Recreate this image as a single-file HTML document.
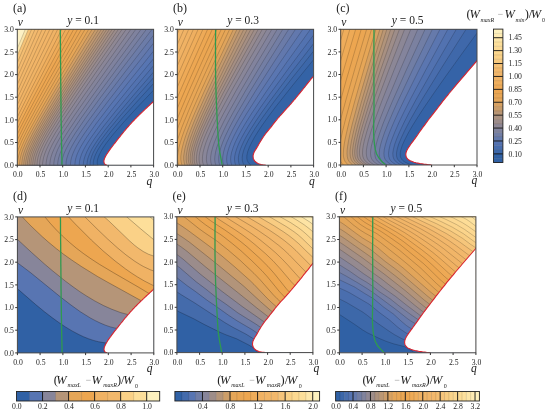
<!DOCTYPE html>
<html><head><meta charset="utf-8"><title>Figure</title>
<style>html,body{margin:0;padding:0;background:#fff}svg{display:block}</style>
</head><body>
<svg width="550" height="413" viewBox="0 0 550 413">
<rect width="550" height="413" fill="#fff"/>
<clipPath id="cpa"><rect x="17.3" y="29.3" width="136.3" height="135.9"/></clipPath>
<g clip-path="url(#cpa)">
<rect x="16.3" y="28.3" width="138.3" height="137.9" fill="#3363a6"/>
<g stroke="#000" stroke-opacity="0.25" stroke-width="0.7" stroke-linejoin="round">
<path d="M13.3,25.3 157.3,25.3 157.3,86.2 137.3,107.3 124.3,121.5 113.3,134.2 106.3,143.2 103.3,147.5 101.0,151.3 99.3,154.7 97.9,158.3 97.4,160.3 97.2,162.3 97.2,163.3 97.5,164.3 98.2,165.3 98.2,168.3 13.3,168.3Z" fill="#3966a8" fill-rule="evenodd"/>
<path d="M13.3,25.3 157.3,25.3 157.3,79.4 137.3,101.3 122.3,118.1 111.3,131.2 103.3,141.5 100.3,145.9 97.6,150.3 95.6,154.3 94.4,157.3 93.6,160.3 93.3,162.3 93.3,164.3 93.6,165.3 93.6,168.3 13.3,168.3Z" fill="#4069aa" fill-rule="evenodd"/>
<path d="M13.3,25.3 157.3,25.3 157.3,73.4 135.3,98.3 121.3,114.5 109.3,129.0 101.3,139.5 98.3,143.8 95.5,148.3 93.3,152.3 92.0,155.3 91.0,158.3 90.3,161.3 90.1,163.3 90.2,168.3 13.3,168.3Z" fill="#466cac" fill-rule="evenodd"/>
<path d="M13.3,25.3 157.3,25.3 157.3,67.7 133.3,95.5 117.5,114.3 105.5,129.3 98.1,139.3 94.8,144.3 92.3,148.3 90.7,151.3 89.0,155.3 87.9,158.3 87.3,161.3 87.0,163.3 87.1,168.3 13.3,168.3Z" fill="#4c6fae" fill-rule="evenodd"/>
<path d="M157.3,25.3 157.3,61.2 133.3,89.7 115.5,111.3 103.6,126.3 94.8,138.3 91.5,143.3 89.1,147.3 87.0,151.3 85.3,155.3 84.3,158.3 83.6,161.3 83.3,164.3 83.3,168.3 13.3,168.3 13.3,25.3Z" fill="#5272b0" fill-rule="evenodd"/>
<path d="M157.3,25.3 157.3,54.1 131.3,85.6 113.3,107.9 100.3,124.6 91.2,137.3 87.9,142.3 85.5,146.3 83.3,150.3 81.5,154.3 80.2,158.3 79.5,161.3 79.3,164.3 79.2,168.3 13.3,168.3 13.3,25.3Z" fill="#5775b2" fill-rule="evenodd"/>
<path d="M157.3,25.3 157.3,46.4 130.3,79.9 110.3,105.1 96.4,123.3 87.3,136.2 84.0,141.3 81.0,146.3 78.9,150.3 77.1,154.3 75.8,158.3 75.2,161.3 74.9,164.3 74.9,168.3 13.3,168.3 13.3,25.3Z" fill="#5e77af" fill-rule="evenodd"/>
<path d="M157.3,25.3 157.3,38.4 128.3,75.1 108.3,100.9 93.7,120.3 83.8,134.3 79.9,140.3 76.9,145.3 74.8,149.3 73.0,153.3 71.6,157.3 70.9,160.3 70.5,163.3 70.4,168.3 13.3,168.3 13.3,25.3Z" fill="#6579ab" fill-rule="evenodd"/>
<path d="M157.3,25.3 157.3,30.3 124.3,72.9 102.3,101.8 87.3,122.3 81.7,130.3 77.3,137.0 74.3,141.9 71.8,146.3 69.8,150.3 68.1,154.3 66.8,158.3 66.2,161.3 66.0,164.3 65.9,168.3 13.3,168.3 13.3,25.3Z" fill="#6c7ca8" fill-rule="evenodd"/>
<path d="M155.1,25.3 123.3,67.0 101.3,96.4 86.3,117.0 75.3,133.1 71.4,139.3 68.5,144.3 65.9,149.3 64.1,153.3 62.8,157.3 62.1,160.3 61.7,163.3 61.7,168.3 13.3,168.3 13.3,25.3Z" fill="#737ea4" fill-rule="evenodd"/>
<path d="M149.4,25.3 118.3,66.9 96.3,96.8 81.3,117.8 70.9,133.3 67.2,139.3 64.3,144.3 61.8,149.3 60.1,153.3 58.8,157.3 58.1,160.3 57.7,163.3 57.7,168.3 13.3,168.3 13.3,25.3Z" fill="#7980a1" fill-rule="evenodd"/>
<path d="M144.0,25.3 113.3,67.1 92.3,96.1 77.3,117.4 67.3,132.5 63.3,139.0 60.3,144.3 57.8,149.3 56.2,153.3 54.9,157.3 54.2,160.3 53.8,163.3 53.8,168.3 13.3,168.3 13.3,25.3Z" fill="#7f829e" fill-rule="evenodd"/>
<path d="M138.7,25.3 108.3,67.3 88.3,95.4 73.3,117.0 63.3,132.3 59.3,138.9 56.3,144.3 53.9,149.3 52.2,153.3 50.9,157.3 50.3,160.3 49.9,163.3 49.8,168.3 13.3,168.3 13.3,25.3Z" fill="#84849b" fill-rule="evenodd"/>
<path d="M133.7,25.3 104.3,66.5 83.3,96.4 69.3,116.9 59.3,132.3 55.3,139.1 52.4,144.3 50.0,149.3 48.4,153.3 47.1,157.3 46.5,160.3 46.1,163.3 46.1,168.3 13.3,168.3 13.3,25.3Z" fill="#8a8698" fill-rule="evenodd"/>
<path d="M129.0,25.3 99.3,67.5 79.3,96.4 65.3,117.1 55.3,132.9 51.6,139.3 48.9,144.3 46.5,149.3 44.9,153.3 43.6,157.3 43.0,160.3 42.6,163.3 42.6,168.3 13.3,168.3 13.3,25.3Z" fill="#8f8894" fill-rule="evenodd"/>
<path d="M124.9,25.3 96.3,66.4 76.3,95.6 62.3,116.6 52.3,132.5 48.3,139.4 45.3,145.1 43.3,149.4 41.8,153.3 40.5,157.3 39.9,160.3 39.6,163.3 39.5,168.3 13.3,168.3 13.3,25.3Z" fill="#958a90" fill-rule="evenodd"/>
<path d="M121.2,25.3 92.3,67.4 73.3,95.5 58.3,118.4 49.3,133.0 46.3,138.2 43.3,143.9 41.2,148.3 39.2,153.3 38.0,157.3 37.3,160.6 37.0,164.3 37.0,168.3 13.3,168.3 13.3,25.3Z" fill="#9b8c8b" fill-rule="evenodd"/>
<path d="M117.9,25.3 90.3,66.1 70.3,96.0 56.3,117.6 47.3,132.3 41.3,143.3 38.9,148.3 36.9,153.3 35.7,157.3 35.1,160.3 34.8,163.3 34.7,168.3 13.3,168.3 13.3,25.3Z" fill="#a18e87" fill-rule="evenodd"/>
<path d="M114.9,25.3 87.3,66.6 68.3,95.3 54.3,117.2 45.3,132.0 39.2,143.3 36.4,149.3 34.9,153.3 33.7,157.3 33.1,160.3 32.8,163.3 32.7,168.3 13.3,168.3 13.3,25.3Z" fill="#a79083" fill-rule="evenodd"/>
<path d="M112.1,25.3 84.3,67.3 65.3,96.5 52.3,117.0 43.2,132.3 39.3,139.3 36.8,144.3 34.5,149.3 33.0,153.3 31.9,157.3 31.2,160.3 30.9,163.3 30.9,168.3 13.3,168.3 13.3,25.3Z" fill="#ad927e" fill-rule="evenodd"/>
<path d="M109.4,25.3 82.3,66.8 63.3,96.3 50.3,117.0 41.3,132.3 38.0,138.3 35.0,144.3 32.7,149.3 31.2,153.3 30.1,157.3 29.5,160.3 29.2,163.3 29.1,168.3 13.3,168.3 13.3,25.3Z" fill="#b2947a" fill-rule="evenodd"/>
<path d="M106.8,25.3 79.6,67.3 61.1,96.3 47.6,118.3 38.8,133.3 35.6,139.3 33.2,144.3 31.0,149.3 29.5,153.3 28.3,157.3 27.8,160.3 27.4,163.3 27.4,168.3 13.3,168.3 13.3,25.3Z" fill="#b99676" fill-rule="evenodd"/>
<path d="M104.0,25.3 77.8,66.3 59.0,96.3 45.5,118.3 36.9,133.3 33.8,139.3 30.9,145.3 29.2,149.3 27.7,153.3 26.6,157.3 26.0,160.3 25.7,163.3 25.6,168.3 13.3,168.3 13.3,25.3Z" fill="#bf9871" fill-rule="evenodd"/>
<path d="M101.1,25.3 75.9,65.3 56.7,96.3 44.0,117.3 34.9,133.3 31.8,139.3 28.9,145.3 27.2,149.3 25.8,153.3 24.7,157.3 24.1,160.3 23.8,163.3 23.7,168.3 13.3,168.3 13.3,25.3Z" fill="#c69b6c" fill-rule="evenodd"/>
<path d="M98.0,25.3 71.9,67.3 53.5,97.3 41.7,117.3 32.7,133.3 27.3,144.3 25.1,149.3 23.7,153.3 22.6,157.3 22.1,160.3 21.8,163.3 21.7,168.3 13.3,168.3 13.3,25.3Z" fill="#d29f65" fill-rule="evenodd"/>
<path d="M94.6,25.3 70.8,64.3 52.1,95.3 39.8,116.3 30.9,132.3 27.8,138.3 25.0,144.3 22.9,149.3 21.5,153.3 20.5,157.3 19.9,160.3 19.6,163.3 19.5,168.3 13.3,168.3 13.3,25.3Z" fill="#dda35d" fill-rule="evenodd"/>
<path d="M91.1,25.3 52.8,89.3 41.8,108.3 32.8,124.3 28.0,133.3 24.5,140.3 21.9,146.3 19.9,151.3 18.5,156.3 17.7,160.3 17.4,163.3 17.3,168.3 13.3,168.3 13.3,25.3Z" fill="#e6a657" fill-rule="evenodd"/>
<path d="M87.4,25.3 63.9,65.3 47.6,93.3 35.7,114.3 27.6,129.3 22.1,140.3 18.3,149.3 16.7,154.3 15.6,159.3 15.1,163.3 15.1,168.3 13.3,168.3 13.3,25.3Z" fill="#e7a656" fill-rule="evenodd"/>
<path d="M83.7,25.3 48.0,87.3 36.8,107.3 28.1,123.3 22.0,135.3 17.9,144.3 15.0,152.3 13.9,156.3 13.3,159.0 13.3,25.3Z" fill="#eaa653" fill-rule="evenodd"/>
<path d="M79.8,25.3 48.8,80.3 30.7,113.3 24.3,125.5 19.5,135.3 15.9,143.3 13.3,150.0 13.3,25.3Z" fill="#eca651" fill-rule="evenodd"/>
<path d="M75.9,25.3 48.8,74.3 31.3,106.8 20.2,128.3 16.4,136.3 13.3,143.5 13.3,25.3Z" fill="#eda752" fill-rule="evenodd"/>
<path d="M71.8,25.3 47.3,70.8 31.3,101.1 20.5,122.3 13.3,137.5 13.3,25.3Z" fill="#eeab58" fill-rule="evenodd"/>
<path d="M67.8,25.3 46.3,66.2 31.3,95.1 20.6,116.3 13.3,131.6 13.3,25.3Z" fill="#efae5d" fill-rule="evenodd"/>
<path d="M63.8,25.3 31.3,88.8 20.6,110.3 13.3,125.6 13.3,25.3Z" fill="#f0b162" fill-rule="evenodd"/>
<path d="M59.7,25.3 30.3,84.3 20.3,104.8 13.3,119.5 13.3,25.3Z" fill="#f0b365" fill-rule="evenodd"/>
<path d="M55.7,25.3 29.3,79.5 13.3,113.3 13.3,25.3Z" fill="#f1b467" fill-rule="evenodd"/>
<path d="M51.7,25.3 28.3,74.6 13.3,106.8 13.3,25.3Z" fill="#f1b568" fill-rule="evenodd"/>
<path d="M47.8,25.3 27.3,69.5 13.3,100.2 13.3,25.3Z" fill="#f1b66a" fill-rule="evenodd"/>
<path d="M44.0,25.3 13.3,93.4 13.3,25.3Z" fill="#f2b76b" fill-rule="evenodd"/>
<path d="M40.3,25.3 13.3,86.4 13.3,25.3Z" fill="#f2b96e" fill-rule="evenodd"/>
<path d="M36.7,25.3 13.3,79.3 13.3,25.3Z" fill="#f4be72" fill-rule="evenodd"/>
<path d="M33.3,25.3 13.3,72.2 13.3,25.3Z" fill="#f5c277" fill-rule="evenodd"/>
<path d="M30.0,25.3 13.3,65.1 13.3,25.3Z" fill="#fbe5aa" fill-rule="evenodd"/>
<path d="M26.9,25.3 13.3,58.2 13.3,25.3Z" fill="#fdf1c4" fill-rule="evenodd"/>
</g>
<path d="M107.0,165.2 105.8,164.9 104.8,164.2 104.2,163.2 103.9,161.9 103.9,160.7 104.2,159.5 104.6,158.4 105.1,157.2 105.7,156.1 106.3,155.0 106.9,154.0 107.6,153.0 108.3,151.9 109.0,150.9 109.7,149.9 110.4,148.9 111.1,148.0 111.9,147.0 112.6,146.0 113.4,145.0 114.1,144.0 114.9,143.1 115.6,142.1 116.4,141.1 117.1,140.2 117.9,139.2 118.6,138.2 119.4,137.3 120.2,136.3 120.9,135.3 121.7,134.4 122.5,133.4 123.3,132.5 124.0,131.5 124.8,130.6 125.6,129.6 126.4,128.7 127.2,127.7 128.0,126.8 128.8,125.9 129.6,125.0 130.4,124.1 131.3,123.1 132.1,122.2 132.9,121.3 133.8,120.5 134.6,119.6 135.5,118.7 136.4,117.8 137.2,116.9 138.1,116.1 139.0,115.2 139.8,114.3 140.7,113.5 141.6,112.6 142.5,111.8 143.4,110.9 144.3,110.1 145.2,109.2 146.1,108.4 147.0,107.5 147.9,106.7 148.8,105.9 149.7,105.0 150.6,104.2 151.5,103.3 152.4,102.5 153.3,101.7 154.1,100.8 155.0,100.0 155.9,99.1 156.8,98.3 157.7,97.4 158.6,96.6 159.5,95.7 160.4,94.9 161.2,94.0 162.1,93.1 163.0,92.3 163.9,91.4 164.8,90.6 165.6,89.7 166.5,88.8 167.4,88.0 168.3,87.1 169.1,86.3 170.0,85.4 170.9,84.5 171.8,83.7 173.6,83.7 173.6,175.2 107.0,175.2Z" fill="#fff"/>
<path d="M107.0,165.2 105.8,164.9 104.8,164.2 104.2,163.2 103.9,161.9 103.9,160.7 104.2,159.5 104.6,158.4 105.1,157.2 105.7,156.1 106.3,155.0 106.9,154.0 107.6,153.0 108.3,151.9 109.0,150.9 109.7,149.9 110.4,148.9 111.1,148.0 111.9,147.0 112.6,146.0 113.4,145.0 114.1,144.0 114.9,143.1 115.6,142.1 116.4,141.1 117.1,140.2 117.9,139.2 118.6,138.2 119.4,137.3 120.2,136.3 120.9,135.3 121.7,134.4 122.5,133.4 123.3,132.5 124.0,131.5 124.8,130.6 125.6,129.6 126.4,128.7 127.2,127.7 128.0,126.8 128.8,125.9 129.6,125.0 130.4,124.1 131.3,123.1 132.1,122.2 132.9,121.3 133.8,120.5 134.6,119.6 135.5,118.7 136.4,117.8 137.2,116.9 138.1,116.1 139.0,115.2 139.8,114.3 140.7,113.5 141.6,112.6 142.5,111.8 143.4,110.9 144.3,110.1 145.2,109.2 146.1,108.4 147.0,107.5 147.9,106.7 148.8,105.9 149.7,105.0 150.6,104.2 151.5,103.3 152.4,102.5 153.3,101.7 154.1,100.8 155.0,100.0 155.9,99.1 156.8,98.3 157.7,97.4 158.6,96.6 159.5,95.7 160.4,94.9 161.2,94.0 162.1,93.1 163.0,92.3 163.9,91.4 164.8,90.6 165.6,89.7 166.5,88.8 167.4,88.0 168.3,87.1 169.1,86.3 170.0,85.4 170.9,84.5 171.8,83.7" fill="none" stroke="#d9232e" stroke-width="1.1"/>
<path d="M60.3,29.3 60.3,34.0 60.4,38.7 60.4,43.4 60.5,48.0 60.5,52.7 60.5,57.4 60.6,62.1 60.6,66.8 60.7,71.5 60.7,76.2 60.7,80.9 60.8,85.5 60.8,90.2 60.9,94.9 60.9,99.6 61.0,104.3 61.0,109.0 61.1,113.7 61.1,118.3 61.2,123.0 61.3,127.7 61.3,132.4 61.4,137.1 61.5,141.8 61.6,146.5 61.7,151.1 61.8,155.8 61.9,160.5 62.0,165.2" fill="none" stroke="#2f9a4f" stroke-width="1.3"/>
</g>
<clipPath id="cpb"><rect x="177.3" y="29.3" width="136.3" height="135.9"/></clipPath>
<g clip-path="url(#cpb)">
<rect x="176.3" y="28.3" width="138.3" height="137.9" fill="#3463a6"/>
<g stroke="#000" stroke-opacity="0.25" stroke-width="0.7" stroke-linejoin="round">
<path d="M173.3,25.3 317.3,25.3 317.3,55.1 293.3,84.5 275.3,107.3 268.3,116.7 262.3,125.1 258.3,131.1 254.3,137.6 251.3,143.1 249.3,147.4 247.8,151.3 246.9,155.3 246.8,158.3 247.2,160.3 248.3,162.6 249.3,163.8 251.0,165.3 251.0,168.3 173.3,168.3Z" fill="#3c67a9" fill-rule="evenodd"/>
<path d="M317.3,25.3 317.3,46.4 292.3,77.9 274.3,101.3 261.3,119.3 255.3,128.2 251.5,134.3 248.1,140.3 245.3,146.1 243.7,150.3 242.6,154.3 242.2,157.3 242.3,160.3 243.1,163.3 244.2,165.3 244.2,168.3 173.3,168.3 173.3,25.3Z" fill="#436bab" fill-rule="evenodd"/>
<path d="M317.3,25.3 317.3,38.8 290.6,73.3 269.7,101.3 261.8,112.3 255.7,121.3 250.6,129.3 245.9,137.3 243.8,141.3 241.5,146.3 240.0,150.3 238.9,154.3 238.4,157.3 238.4,160.3 238.9,163.3 239.7,165.3 239.7,168.3 173.3,168.3 173.3,25.3Z" fill="#4b6eae" fill-rule="evenodd"/>
<path d="M317.3,25.3 317.3,30.0 288.3,68.8 269.3,94.9 260.6,107.3 254.6,116.3 248.8,125.3 244.6,132.3 241.3,138.3 238.4,144.3 236.5,149.3 235.3,153.3 234.7,156.3 234.5,159.3 234.8,162.3 235.7,165.3 235.7,168.3 173.3,168.3 173.3,25.3Z" fill="#5272b0" fill-rule="evenodd"/>
<path d="M313.3,25.3 286.3,62.9 266.3,91.5 251.7,113.3 246.3,121.9 241.9,129.3 238.1,136.3 235.2,142.3 233.2,147.3 231.6,152.3 230.8,156.3 230.6,159.3 230.9,162.3 231.7,165.3 231.7,168.3 173.3,168.3 173.3,25.3Z" fill="#5a76b1" fill-rule="evenodd"/>
<path d="M305.6,25.3 279.3,63.6 260.3,92.1 246.8,113.3 241.4,122.3 237.4,129.3 233.8,136.3 231.0,142.3 229.1,147.3 227.6,152.3 226.8,156.3 226.6,159.3 226.9,162.3 227.7,165.3 227.7,168.3 173.3,168.3 173.3,25.3Z" fill="#6278ad" fill-rule="evenodd"/>
<path d="M298.1,25.3 273.3,63.1 255.3,91.3 242.3,112.6 237.3,121.3 232.9,129.3 229.5,136.3 226.8,142.3 224.9,147.3 223.5,152.3 222.8,156.3 222.6,159.3 222.9,162.3 223.8,165.3 223.8,168.3 173.3,168.3 173.3,25.3Z" fill="#6b7ba8" fill-rule="evenodd"/>
<path d="M291.2,25.3 267.3,63.2 249.3,92.5 237.3,113.0 232.3,122.1 228.3,129.8 225.2,136.3 222.7,142.3 220.9,147.3 219.5,152.3 218.8,156.3 218.7,159.3 218.9,162.3 219.8,165.3 219.8,168.3 173.3,168.3 173.3,25.3Z" fill="#737ea4" fill-rule="evenodd"/>
<path d="M285.2,25.3 261.9,63.3 244.6,92.3 232.7,113.3 227.8,122.3 223.8,130.3 221.1,136.3 218.6,142.3 216.8,147.3 215.5,152.3 214.9,156.3 214.7,159.3 215.0,162.3 215.9,165.3 215.9,168.3 173.3,168.3 173.3,25.3Z" fill="#7b81a0" fill-rule="evenodd"/>
<path d="M279.6,25.3 257.3,62.5 240.3,91.5 228.3,113.0 223.9,121.3 220.0,129.3 216.8,136.3 214.4,142.3 212.7,147.3 211.4,152.3 210.7,156.3 210.6,159.3 210.9,162.3 211.7,165.3 211.7,168.3 173.3,168.3 173.3,25.3Z" fill="#82839d" fill-rule="evenodd"/>
<path d="M274.2,25.3 251.3,64.2 235.3,92.0 223.3,113.9 219.0,122.3 215.3,129.9 212.5,136.3 210.1,142.3 208.4,147.3 207.1,152.3 206.5,156.3 206.4,159.3 206.7,162.3 207.5,165.3 207.5,168.3 173.3,168.3 173.3,25.3Z" fill="#898699" fill-rule="evenodd"/>
<path d="M269.2,25.3 248.3,61.3 231.3,91.3 219.3,113.5 215.3,121.3 211.3,129.7 208.3,136.5 206.0,142.3 204.3,147.6 203.1,152.3 202.5,156.3 202.4,159.3 202.7,162.3 203.6,165.3 203.6,168.3 173.3,168.3 173.3,25.3Z" fill="#8f8894" fill-rule="evenodd"/>
<path d="M264.6,25.3 241.3,66.2 226.3,93.3 215.3,114.1 211.3,122.1 207.3,130.7 204.3,137.7 202.3,143.1 200.4,149.3 199.5,153.3 199.1,156.3 199.0,159.3 199.3,162.3 200.2,165.3 200.2,168.3 173.3,168.3 173.3,25.3Z" fill="#968a8f" fill-rule="evenodd"/>
<path d="M260.5,25.3 239.3,63.3 223.3,92.7 212.3,114.0 208.3,122.2 204.3,130.9 201.3,138.2 199.5,143.3 198.2,147.3 197.0,152.3 196.5,156.3 196.4,159.3 196.7,162.3 197.5,165.3 197.5,168.3 173.3,168.3 173.3,25.3Z" fill="#9e8d89" fill-rule="evenodd"/>
<path d="M256.6,25.3 235.3,64.5 220.3,92.8 209.3,114.6 202.3,129.8 199.3,137.2 197.3,142.7 195.6,148.3 194.7,152.3 194.2,156.3 194.1,159.3 194.4,162.3 195.3,165.3 195.3,168.3 173.3,168.3 173.3,25.3Z" fill="#a58f84" fill-rule="evenodd"/>
<path d="M252.9,25.3 233.3,62.3 218.3,91.4 207.3,113.7 200.3,129.3 197.3,136.8 195.4,142.3 193.9,147.3 192.7,152.3 192.2,156.3 192.1,159.3 192.4,162.3 193.3,165.3 193.3,168.3 173.3,168.3 173.3,25.3Z" fill="#ad927e" fill-rule="evenodd"/>
<path d="M249.3,25.3 229.3,64.2 215.3,92.1 204.7,114.3 197.8,130.3 195.4,136.3 193.4,142.3 191.9,147.3 190.8,152.3 190.3,156.3 190.2,159.3 190.6,162.3 191.4,165.3 191.4,168.3 173.3,168.3 173.3,25.3Z" fill="#b49579" fill-rule="evenodd"/>
<path d="M245.8,25.3 226.8,63.3 212.6,92.3 202.8,113.3 198.9,122.3 195.6,130.3 193.0,137.3 191.0,143.3 189.7,148.3 188.9,152.3 188.4,156.3 188.3,159.3 188.7,162.3 189.5,165.3 189.5,168.3 173.3,168.3 173.3,25.3Z" fill="#bc9774" fill-rule="evenodd"/>
<path d="M242.3,25.3 222.8,65.3 209.0,94.3 199.9,114.3 195.7,124.3 192.9,131.3 190.7,137.3 188.8,143.3 187.5,148.3 186.6,153.3 186.2,156.3 186.2,159.3 186.5,162.3 187.4,165.3 187.4,168.3 173.3,168.3 173.3,25.3Z" fill="#c39a6e" fill-rule="evenodd"/>
<path d="M238.9,25.3 220.6,63.3 207.0,92.3 197.6,113.3 193.8,122.3 190.7,130.3 188.5,136.3 186.6,142.3 185.0,148.3 184.1,153.3 183.7,156.3 183.7,159.3 184.1,162.3 184.9,165.3 184.9,168.3 173.3,168.3 173.3,25.3Z" fill="#d19f65" fill-rule="evenodd"/>
<path d="M235.3,25.3 216.8,64.3 203.8,92.3 194.6,113.3 190.8,122.3 187.7,130.3 185.2,137.3 183.4,143.3 182.1,148.3 181.2,153.3 180.8,156.3 180.8,159.3 181.2,162.3 182.0,165.3 182.0,168.3 173.3,168.3 173.3,25.3Z" fill="#dfa45c" fill-rule="evenodd"/>
<path d="M231.5,25.3 212.7,65.3 199.9,93.3 190.7,114.3 184.4,130.3 181.9,137.3 180.4,142.3 179.0,147.3 178.1,152.3 177.6,156.3 177.6,159.3 177.9,162.3 178.8,165.3 178.8,168.3 173.3,168.3 173.3,25.3Z" fill="#e6a657" fill-rule="evenodd"/>
<path d="M227.4,25.3 210.6,61.3 197.9,89.3 188.8,110.3 181.9,127.3 177.7,139.3 176.3,144.3 175.1,149.3 174.3,154.3 174.0,158.3 174.4,162.3 175.3,165.3 175.3,168.3 173.3,168.3 173.3,25.3Z" fill="#e8a655" fill-rule="evenodd"/>
<path d="M223.1,25.3 202.0,71.3 187.8,103.3 182.8,115.3 178.8,125.3 175.5,134.3 173.3,141.3 173.3,25.3Z" fill="#eaa653" fill-rule="evenodd"/>
<path d="M218.7,25.3 201.8,62.3 188.8,91.3 179.9,112.3 173.3,129.2 173.3,25.3Z" fill="#eca651" fill-rule="evenodd"/>
<path d="M214.1,25.3 199.6,57.3 188.0,83.3 179.8,102.3 173.3,118.1 173.3,25.3Z" fill="#eda752" fill-rule="evenodd"/>
<path d="M209.4,25.3 187.9,73.3 179.6,92.3 173.3,107.2 173.3,25.3Z" fill="#eeaa57" fill-rule="evenodd"/>
<path d="M204.7,25.3 185.9,67.3 173.3,96.4 173.3,25.3Z" fill="#efad5b" fill-rule="evenodd"/>
<path d="M199.9,25.3 184.8,59.3 173.3,85.7 173.3,25.3Z" fill="#efaf60" fill-rule="evenodd"/>
<path d="M195.1,25.3 173.3,74.9 173.3,25.3Z" fill="#f0b264" fill-rule="evenodd"/>
<path d="M190.4,25.3 173.3,64.3 173.3,25.3Z" fill="#f0b366" fill-rule="evenodd"/>
<path d="M185.7,25.3 173.3,53.7 173.3,25.3Z" fill="#f1b568" fill-rule="evenodd"/>
<path d="M181.1,25.3 173.3,43.3 173.3,25.3Z" fill="#f1b669" fill-rule="evenodd"/>
<path d="M176.7,25.3 173.3,33.2 173.3,25.3Z" fill="#f2b76b" fill-rule="evenodd"/>
</g>
<path d="M265.9,165.2 264.3,165.0 262.6,164.8 261.0,164.5 259.4,164.0 257.9,163.4 256.4,162.5 255.1,161.5 254.1,160.2 253.4,158.7 253.1,157.1 253.1,155.4 253.5,153.8 254.1,152.3 254.9,150.8 255.8,149.4 256.7,147.9 257.6,146.5 258.4,145.1 259.2,143.6 260.0,142.2 260.9,140.8 261.7,139.4 262.6,138.0 263.5,136.7 264.4,135.3 265.4,134.0 266.4,132.7 267.5,131.4 268.5,130.1 269.5,128.8 270.6,127.6 271.6,126.3 272.6,125.0 273.6,123.7 274.6,122.4 275.6,121.1 276.7,119.8 277.7,118.5 278.8,117.3 279.9,116.0 281.0,114.8 282.1,113.6 283.2,112.4 284.3,111.1 285.4,109.9 286.5,108.7 287.6,107.5 288.7,106.3 289.8,105.0 290.9,103.8 292.0,102.5 293.0,101.3 294.1,100.0 295.2,98.8 296.2,97.5 297.3,96.2 298.3,95.0 299.4,93.7 300.4,92.4 301.4,91.1 302.5,89.8 303.5,88.5 304.5,87.3 305.6,86.0 306.6,84.7 307.6,83.4 308.6,82.1 309.7,80.8 310.7,79.5 311.7,78.3 312.8,77.0 313.8,75.7 314.9,74.4 315.9,73.1 316.9,71.9 318.0,70.6 319.0,69.3 320.1,68.1 321.2,66.8 322.2,65.5 323.3,64.3 324.3,63.0 325.4,61.8 326.5,60.5 327.5,59.2 328.6,58.0 329.6,56.7 330.7,55.5 331.8,54.2 333.6,54.2 333.6,175.2 265.9,175.2Z" fill="#fff"/>
<path d="M265.9,165.2 264.3,165.0 262.6,164.8 261.0,164.5 259.4,164.0 257.9,163.4 256.4,162.5 255.1,161.5 254.1,160.2 253.4,158.7 253.1,157.1 253.1,155.4 253.5,153.8 254.1,152.3 254.9,150.8 255.8,149.4 256.7,147.9 257.6,146.5 258.4,145.1 259.2,143.6 260.0,142.2 260.9,140.8 261.7,139.4 262.6,138.0 263.5,136.7 264.4,135.3 265.4,134.0 266.4,132.7 267.5,131.4 268.5,130.1 269.5,128.8 270.6,127.6 271.6,126.3 272.6,125.0 273.6,123.7 274.6,122.4 275.6,121.1 276.7,119.8 277.7,118.5 278.8,117.3 279.9,116.0 281.0,114.8 282.1,113.6 283.2,112.4 284.3,111.1 285.4,109.9 286.5,108.7 287.6,107.5 288.7,106.3 289.8,105.0 290.9,103.8 292.0,102.5 293.0,101.3 294.1,100.0 295.2,98.8 296.2,97.5 297.3,96.2 298.3,95.0 299.4,93.7 300.4,92.4 301.4,91.1 302.5,89.8 303.5,88.5 304.5,87.3 305.6,86.0 306.6,84.7 307.6,83.4 308.6,82.1 309.7,80.8 310.7,79.5 311.7,78.3 312.8,77.0 313.8,75.7 314.9,74.4 315.9,73.1 316.9,71.9 318.0,70.6 319.0,69.3 320.1,68.1 321.2,66.8 322.2,65.5 323.3,64.3 324.3,63.0 325.4,61.8 326.5,60.5 327.5,59.2 328.6,58.0 329.6,56.7 330.7,55.5 331.8,54.2" fill="none" stroke="#d9232e" stroke-width="1.1"/>
<path d="M215.6,29.3 215.6,34.0 215.5,38.7 215.5,43.4 215.5,48.1 215.5,52.8 215.5,57.5 215.5,62.2 215.5,66.9 215.6,71.6 215.6,76.3 215.7,81.0 215.8,85.7 216.0,90.4 216.1,95.1 216.3,99.8 216.5,104.5 216.7,109.2 216.9,113.8 217.1,118.5 217.4,123.2 217.6,127.9 217.9,132.6 218.2,137.3 218.5,142.0 219.0,146.7 219.7,151.3 220.5,156.0 221.4,160.6 222.2,165.2" fill="none" stroke="#2f9a4f" stroke-width="1.3"/>
</g>
<clipPath id="cpc"><rect x="340.7" y="29.3" width="136.3" height="135.7"/></clipPath>
<g clip-path="url(#cpc)">
<rect x="339.7" y="28.3" width="138.3" height="137.7" fill="#3563a7"/>
<g stroke="#000" stroke-opacity="0.25" stroke-width="0.7" stroke-linejoin="round">
<path d="M336.7,25.3 480.7,25.3 480.7,27.9 460.7,55.4 445.7,76.3 433.7,93.4 423.7,108.1 417.7,117.3 412.7,125.3 408.7,132.2 404.7,139.9 402.3,145.3 400.7,150.3 400.3,152.3 400.2,154.3 400.4,156.3 400.6,157.3 401.7,159.3 402.6,160.3 403.8,161.3 405.3,162.3 407.4,163.3 412.4,165.3 412.4,168.3 336.7,168.3Z" fill="#3f68aa" fill-rule="evenodd"/>
<path d="M336.7,25.3 468.6,25.3 441.7,67.6 422.7,98.4 415.7,110.3 409.7,120.9 404.7,130.5 401.5,137.3 398.7,144.1 397.4,148.3 396.6,152.3 396.5,154.3 396.6,156.3 397.2,158.3 397.7,159.3 399.4,161.3 400.6,162.3 402.1,163.3 405.8,165.3 405.8,168.3 336.7,168.3Z" fill="#496dad" fill-rule="evenodd"/>
<path d="M336.7,25.3 458.6,25.3 433.7,68.2 416.2,99.3 409.2,112.3 404.1,122.3 399.9,131.3 396.9,138.3 394.7,144.3 393.4,149.3 392.8,153.3 393.0,156.3 393.6,158.3 394.0,159.3 395.5,161.3 398.1,163.3 401.5,165.3 401.5,168.3 336.7,168.3Z" fill="#5272b0" fill-rule="evenodd"/>
<path d="M336.7,25.3 450.0,25.3 425.7,70.1 409.7,100.5 403.7,112.5 399.0,122.3 395.1,131.3 392.3,138.3 390.2,144.3 389.0,149.3 388.5,153.3 388.7,156.3 389.3,158.3 389.7,159.3 391.2,161.3 393.7,163.3 397.0,165.3 397.0,168.3 336.7,168.3Z" fill="#5b76b0" fill-rule="evenodd"/>
<path d="M336.7,25.3 442.0,25.3 418.7,70.6 403.7,100.9 398.3,112.3 393.7,122.5 390.0,131.3 387.4,138.3 385.5,144.3 384.3,149.3 383.9,153.3 384.1,156.3 384.7,158.3 385.1,159.3 386.6,161.3 389.1,163.3 392.4,165.3 392.4,168.3 336.7,168.3Z" fill="#667aab" fill-rule="evenodd"/>
<path d="M336.7,25.3 434.3,25.3 412.7,69.6 397.7,101.5 392.7,112.7 388.2,123.3 384.7,132.1 382.2,139.3 380.7,144.3 379.6,149.3 379.2,153.3 379.4,156.3 380.0,158.3 380.5,159.3 382.0,161.3 384.5,163.3 387.7,165.3 387.7,168.3 336.7,168.3Z" fill="#717ea5" fill-rule="evenodd"/>
<path d="M336.7,25.3 426.9,25.3 406.2,70.3 392.4,101.3 387.3,113.3 383.2,123.3 380.3,131.3 377.6,139.3 376.2,144.3 375.2,149.3 374.8,153.3 375.1,156.3 375.7,158.3 376.2,159.3 377.7,161.3 380.2,163.3 383.4,165.3 383.4,168.3 336.7,168.3Z" fill="#7b81a0" fill-rule="evenodd"/>
<path d="M336.7,25.3 419.5,25.3 399.7,70.9 386.7,102.0 381.7,114.6 378.0,124.3 374.9,133.3 372.8,140.3 371.3,146.3 370.7,150.3 370.5,153.3 370.8,156.3 371.4,158.3 371.9,159.3 373.4,161.3 375.9,163.3 379.2,165.3 379.2,168.3 336.7,168.3Z" fill="#84849c" fill-rule="evenodd"/>
<path d="M336.7,25.3 412.4,25.3 394.7,68.5 381.7,101.4 373.7,123.2 370.7,132.3 368.4,140.3 367.0,146.3 366.4,150.3 366.3,153.3 366.6,156.3 367.2,158.3 367.7,159.3 369.3,161.3 371.7,163.3 375.0,165.3 375.0,168.3 336.7,168.3Z" fill="#8c8796" fill-rule="evenodd"/>
<path d="M406.1,25.3 388.7,70.2 376.7,102.3 372.7,113.6 368.7,125.6 366.6,132.3 364.4,140.3 363.3,145.3 362.7,149.3 362.5,153.3 362.8,156.3 363.5,158.3 364.0,159.3 365.5,161.3 368.0,163.3 371.3,165.3 371.3,168.3 336.7,168.3 336.7,25.3Z" fill="#958a90" fill-rule="evenodd"/>
<path d="M400.9,25.3 383.7,71.9 372.7,103.0 365.7,124.3 362.7,134.6 361.0,141.3 360.0,146.3 359.5,150.3 359.4,153.3 359.8,156.3 360.5,158.3 361.0,159.3 362.5,161.3 365.0,163.3 368.3,165.3 368.3,168.3 336.7,168.3 336.7,25.3Z" fill="#9e8d89" fill-rule="evenodd"/>
<path d="M396.2,25.3 380.7,69.7 369.7,102.4 362.7,124.9 360.6,132.3 358.7,140.3 357.7,145.3 357.0,150.3 357.0,153.3 357.3,156.3 357.7,157.6 358.4,159.3 359.9,161.3 362.3,163.3 365.4,165.3 365.4,168.3 336.7,168.3 336.7,25.3Z" fill="#a89082" fill-rule="evenodd"/>
<path d="M392.0,25.3 376.7,71.5 366.7,102.9 360.1,125.3 357.8,134.3 356.2,141.3 355.3,146.3 354.8,150.3 354.7,153.3 355.0,156.3 355.6,158.3 356.1,159.3 357.4,161.3 359.6,163.3 362.5,165.3 362.5,168.3 336.7,168.3 336.7,25.3Z" fill="#b1947b" fill-rule="evenodd"/>
<path d="M388.1,25.3 373.7,70.9 364.1,102.3 357.9,124.3 355.9,132.3 354.1,140.3 353.2,145.3 352.6,150.3 352.5,153.3 352.8,156.3 353.7,159.3 354.9,161.3 356.7,163.1 359.6,165.3 359.6,168.3 336.7,168.3 336.7,25.3Z" fill="#bb9774" fill-rule="evenodd"/>
<path d="M384.5,25.3 370.4,71.3 361.3,102.3 355.0,125.3 353.1,133.3 351.4,141.3 350.6,146.3 350.1,150.3 350.0,153.3 350.3,156.3 351.1,159.3 352.2,161.3 354.1,163.3 356.5,165.3 356.5,168.3 336.7,168.3 336.7,25.3Z" fill="#c59b6d" fill-rule="evenodd"/>
<path d="M381.0,25.3 367.2,71.3 358.1,102.3 352.2,124.3 350.1,133.3 348.6,140.3 347.6,146.3 347.1,150.3 347.0,153.3 347.2,156.3 347.9,159.3 349.0,161.3 350.7,163.3 352.9,165.3 352.9,168.3 336.7,168.3 336.7,25.3Z" fill="#d7a161" fill-rule="evenodd"/>
<path d="M377.1,25.3 364.2,68.3 355.0,100.3 349.0,122.3 347.1,130.3 345.1,139.3 344.2,144.3 343.5,149.3 343.3,153.3 343.4,156.3 344.1,159.3 345.0,161.3 346.6,163.3 348.6,165.3 348.6,168.3 336.7,168.3 336.7,25.3Z" fill="#e6a657" fill-rule="evenodd"/>
<path d="M372.7,25.3 360.2,67.3 351.2,98.3 345.0,121.3 342.8,130.3 341.0,138.3 339.9,144.3 339.2,149.3 339.0,153.3 339.1,156.3 339.7,159.3 340.5,161.3 341.9,163.3 343.8,165.3 343.8,168.3 336.7,168.3 336.7,25.3Z" fill="#e8a655" fill-rule="evenodd"/>
<path d="M367.8,25.3 355.3,67.3 346.4,98.3 340.4,120.3 336.7,135.9 336.7,25.3ZM336.7,163.1 338.5,165.3 338.5,168.3 336.7,168.3Z" fill="#eba652" fill-rule="evenodd"/>
<path d="M362.4,25.3 346.2,80.3 336.7,114.5 336.7,25.3Z" fill="#eda650" fill-rule="evenodd"/>
<path d="M356.8,25.3 345.3,64.3 336.7,94.2 336.7,25.3Z" fill="#eeaa56" fill-rule="evenodd"/>
<path d="M351.0,25.3 336.7,73.9 336.7,25.3Z" fill="#efad5b" fill-rule="evenodd"/>
<path d="M345.0,25.3 336.7,53.6 336.7,25.3Z" fill="#f0b061" fill-rule="evenodd"/>
<path d="M339.1,25.3 336.7,33.4 336.7,25.3Z" fill="#f0b365" fill-rule="evenodd"/>
</g>
<path d="M431.6,165.0 429.6,164.8 427.6,164.6 425.6,164.3 423.7,164.1 421.7,163.8 419.8,163.5 417.8,163.1 415.9,162.7 414.0,162.2 412.1,161.5 410.2,160.8 408.5,159.8 407.1,158.4 406.1,156.6 405.8,154.7 406.0,152.7 406.7,150.8 407.6,149.0 408.7,147.3 409.8,145.6 410.9,144.0 412.1,142.4 413.3,140.9 414.4,139.3 415.6,137.7 416.7,136.1 417.9,134.5 419.0,132.8 420.1,131.2 421.3,129.6 422.4,128.0 423.6,126.4 424.8,124.8 426.0,123.2 427.1,121.6 428.3,120.0 429.5,118.5 430.7,116.9 431.9,115.3 433.1,113.8 434.4,112.2 435.6,110.6 436.8,109.1 438.0,107.5 439.2,105.9 440.4,104.4 441.6,102.8 442.8,101.2 444.1,99.7 445.3,98.1 446.5,96.6 447.8,95.1 449.0,93.5 450.3,92.0 451.6,90.5 452.8,89.0 454.1,87.4 455.4,85.9 456.6,84.4 457.9,82.9 459.2,81.4 460.5,79.9 461.8,78.4 463.1,76.9 464.4,75.4 465.7,73.9 466.9,72.4 468.2,70.9 469.5,69.4 470.8,67.9 472.1,66.4 473.4,64.9 474.7,63.4 476.0,61.9 477.3,60.4 478.6,58.9 479.9,57.4 481.1,55.9 482.4,54.4 483.7,52.9 485.0,51.4 486.3,49.8 487.5,48.3 488.8,46.8 490.1,45.3 491.4,43.8 492.6,42.3 493.9,40.8 495.2,39.3 497.0,39.3 497.0,175.0 431.6,175.0Z" fill="#fff"/>
<path d="M431.6,165.0 429.6,164.8 427.6,164.6 425.6,164.3 423.7,164.1 421.7,163.8 419.8,163.5 417.8,163.1 415.9,162.7 414.0,162.2 412.1,161.5 410.2,160.8 408.5,159.8 407.1,158.4 406.1,156.6 405.8,154.7 406.0,152.7 406.7,150.8 407.6,149.0 408.7,147.3 409.8,145.6 410.9,144.0 412.1,142.4 413.3,140.9 414.4,139.3 415.6,137.7 416.7,136.1 417.9,134.5 419.0,132.8 420.1,131.2 421.3,129.6 422.4,128.0 423.6,126.4 424.8,124.8 426.0,123.2 427.1,121.6 428.3,120.0 429.5,118.5 430.7,116.9 431.9,115.3 433.1,113.8 434.4,112.2 435.6,110.6 436.8,109.1 438.0,107.5 439.2,105.9 440.4,104.4 441.6,102.8 442.8,101.2 444.1,99.7 445.3,98.1 446.5,96.6 447.8,95.1 449.0,93.5 450.3,92.0 451.6,90.5 452.8,89.0 454.1,87.4 455.4,85.9 456.6,84.4 457.9,82.9 459.2,81.4 460.5,79.9 461.8,78.4 463.1,76.9 464.4,75.4 465.7,73.9 466.9,72.4 468.2,70.9 469.5,69.4 470.8,67.9 472.1,66.4 473.4,64.9 474.7,63.4 476.0,61.9 477.3,60.4 478.6,58.9 479.9,57.4 481.1,55.9 482.4,54.4 483.7,52.9 485.0,51.4 486.3,49.8 487.5,48.3 488.8,46.8 490.1,45.3 491.4,43.8 492.6,42.3 493.9,40.8 495.2,39.3" fill="none" stroke="#d9232e" stroke-width="1.1"/>
<path d="M374.0,29.3 374.0,34.1 374.0,38.9 373.9,43.7 373.9,48.5 373.9,53.3 373.9,58.1 373.9,62.9 373.9,67.7 373.9,72.5 373.9,77.3 373.9,82.1 374.0,86.9 374.0,91.7 374.0,96.5 374.0,101.3 374.0,106.1 374.0,110.9 373.9,115.7 373.8,120.5 373.7,125.3 373.7,130.1 373.7,134.9 374.0,139.6 374.5,144.4 375.2,149.2 376.5,153.8 378.9,158.0 382.0,161.7 385.5,165.0" fill="none" stroke="#2f9a4f" stroke-width="1.3"/>
</g>
<clipPath id="cpd"><rect x="17.4" y="216.9" width="136.4" height="136.0"/></clipPath>
<g clip-path="url(#cpd)">
<rect x="16.4" y="215.9" width="138.4" height="138.0" fill="#3061a5"/>
<g stroke="#000" stroke-opacity="0.45" stroke-width="0.6" stroke-linejoin="round">
<path d="M13.4,212.9 157.4,212.9 157.4,356.9 144.5,356.9 138.4,352.7 132.4,349.1 126.4,346.2 121.4,344.3 116.4,343.0 106.4,343.0 103.4,342.6 98.4,341.7 93.4,340.4 88.4,338.7 83.4,336.7 78.4,334.3 72.0,330.9 65.4,326.9 58.4,322.2 51.4,317.1 44.4,311.7 35.4,304.3 13.4,285.2Z" fill="#5875b2" fill-rule="evenodd"/>
<path d="M13.4,212.9 157.4,212.9 157.4,343.7 151.9,339.9 147.2,336.9 142.4,334.4 137.4,332.2 132.4,330.5 128.4,329.5 125.4,329.1 118.4,328.6 114.4,327.9 110.4,326.9 105.4,325.2 100.4,323.1 95.4,320.7 90.2,317.9 80.4,311.8 70.4,304.6 59.4,296.1 30.4,272.5 21.4,265.7 13.4,260.0Z" fill="#87859a" fill-rule="evenodd"/>
<path d="M13.4,212.9 157.4,212.9 157.4,325.7 150.4,321.2 147.4,319.7 144.4,318.4 139.4,316.9 127.4,314.4 120.4,312.5 111.4,309.1 103.4,305.5 94.7,300.9 86.4,295.9 80.2,291.9 73.4,287.1 65.1,280.9 52.4,270.7 44.4,263.9 31.4,252.3 13.4,235.6Z" fill="#b59578" fill-rule="evenodd"/>
<path d="M18.8,212.9 157.4,212.9 157.4,310.5 153.9,307.9 150.4,305.8 106.4,281.5 97.4,276.4 81.4,266.5 71.4,259.8 63.4,254.1 56.4,248.7 48.4,242.1 42.4,236.8 30.9,225.9 25.1,219.9Z" fill="#e5a658" fill-rule="evenodd"/>
<path d="M41.6,212.9 157.4,212.9 157.4,299.1 148.0,292.9 138.4,287.1 113.8,272.9 99.4,264.3 91.1,258.9 83.4,253.5 76.4,248.2 70.1,242.9 62.3,235.9 56.3,229.9 50.4,223.5Z" fill="#eda650" fill-rule="evenodd"/>
<path d="M64.8,212.9 157.4,212.9 157.4,287.3 152.0,284.9 144.2,280.9 137.4,276.9 131.2,272.9 125.5,268.9 115.0,260.9 103.1,250.9 91.4,240.1 75.4,224.1Z" fill="#f0b264" fill-rule="evenodd"/>
<path d="M80.9,212.9 157.4,212.9 157.4,272.3 150.4,269.8 143.4,266.5 139.4,264.2 134.4,261.0 126.0,254.9 117.4,247.8 107.5,238.9 98.1,229.9Z" fill="#f2b86c" fill-rule="evenodd"/>
<path d="M99.4,212.9 157.4,212.9 157.4,256.5 153.2,255.9 148.4,254.2 143.4,251.6 137.9,247.9 134.1,244.9 129.6,240.9 108.8,220.9 104.3,216.9Z" fill="#fad187" fill-rule="evenodd"/>
<path d="M122.2,212.9 157.4,212.9 157.4,242.7 140.4,228.6Z" fill="#fddf9a" fill-rule="evenodd"/>
<path d="M145.4,212.9 157.4,212.9 157.4,223.1Z" fill="#fef1be" fill-rule="evenodd"/>
</g>
<path d="M107.2,352.9 106.0,352.6 105.0,351.9 104.3,350.9 104.0,349.6 104.1,348.4 104.3,347.2 104.8,346.0 105.3,344.9 105.9,343.8 106.5,342.7 107.1,341.7 107.7,340.6 108.4,339.6 109.1,338.6 109.8,337.6 110.6,336.6 111.3,335.6 112.0,334.7 112.8,333.7 113.5,332.7 114.3,331.7 115.0,330.7 115.8,329.8 116.5,328.8 117.3,327.8 118.1,326.9 118.8,325.9 119.6,324.9 120.4,324.0 121.1,323.0 121.9,322.1 122.7,321.1 123.4,320.1 124.2,319.2 125.0,318.2 125.8,317.3 126.6,316.4 127.4,315.4 128.2,314.5 129.0,313.6 129.8,312.6 130.6,311.7 131.5,310.8 132.3,309.9 133.1,309.0 134.0,308.1 134.8,307.2 135.7,306.3 136.5,305.5 137.4,304.6 138.3,303.7 139.2,302.9 140.0,302.0 140.9,301.1 141.8,300.3 142.7,299.4 143.6,298.6 144.5,297.7 145.4,296.9 146.3,296.0 147.2,295.2 148.1,294.3 149.0,293.5 149.9,292.7 150.8,291.8 151.7,291.0 152.6,290.1 153.5,289.3 154.3,288.5 155.2,287.6 156.1,286.8 157.0,285.9 157.9,285.1 158.8,284.2 159.7,283.4 160.6,282.5 161.5,281.6 162.3,280.8 163.2,279.9 164.1,279.1 165.0,278.2 165.9,277.3 166.7,276.5 167.6,275.6 168.5,274.8 169.4,273.9 170.2,273.0 171.1,272.2 172.0,271.3 173.8,271.3 173.8,362.9 107.2,362.9Z" fill="#fff"/>
<path d="M107.2,352.9 106.0,352.6 105.0,351.9 104.3,350.9 104.0,349.6 104.1,348.4 104.3,347.2 104.8,346.0 105.3,344.9 105.9,343.8 106.5,342.7 107.1,341.7 107.7,340.6 108.4,339.6 109.1,338.6 109.8,337.6 110.6,336.6 111.3,335.6 112.0,334.7 112.8,333.7 113.5,332.7 114.3,331.7 115.0,330.7 115.8,329.8 116.5,328.8 117.3,327.8 118.1,326.9 118.8,325.9 119.6,324.9 120.4,324.0 121.1,323.0 121.9,322.1 122.7,321.1 123.4,320.1 124.2,319.2 125.0,318.2 125.8,317.3 126.6,316.4 127.4,315.4 128.2,314.5 129.0,313.6 129.8,312.6 130.6,311.7 131.5,310.8 132.3,309.9 133.1,309.0 134.0,308.1 134.8,307.2 135.7,306.3 136.5,305.5 137.4,304.6 138.3,303.7 139.2,302.9 140.0,302.0 140.9,301.1 141.8,300.3 142.7,299.4 143.6,298.6 144.5,297.7 145.4,296.9 146.3,296.0 147.2,295.2 148.1,294.3 149.0,293.5 149.9,292.7 150.8,291.8 151.7,291.0 152.6,290.1 153.5,289.3 154.3,288.5 155.2,287.6 156.1,286.8 157.0,285.9 157.9,285.1 158.8,284.2 159.7,283.4 160.6,282.5 161.5,281.6 162.3,280.8 163.2,279.9 164.1,279.1 165.0,278.2 165.9,277.3 166.7,276.5 167.6,275.6 168.5,274.8 169.4,273.9 170.2,273.0 171.1,272.2 172.0,271.3" fill="none" stroke="#d9232e" stroke-width="1.1"/>
<path d="M60.4,216.9 60.5,221.6 60.5,226.3 60.5,231.0 60.6,235.7 60.6,240.3 60.7,245.0 60.7,249.7 60.8,254.4 60.8,259.1 60.8,263.8 60.9,268.5 60.9,273.2 61.0,277.9 61.0,282.6 61.0,287.2 61.1,291.9 61.1,296.6 61.2,301.3 61.3,306.0 61.3,310.7 61.4,315.4 61.5,320.1 61.5,324.8 61.6,329.5 61.7,334.1 61.8,338.8 61.9,343.5 62.0,348.2 62.1,352.9" fill="none" stroke="#2f9a4f" stroke-width="1.3"/>
</g>
<clipPath id="cpe"><rect x="176.9" y="216.8" width="136.0" height="135.8"/></clipPath>
<g clip-path="url(#cpe)">
<rect x="175.9" y="215.8" width="138.0" height="137.8" fill="#3061a5"/>
<g stroke="#000" stroke-opacity="0.38" stroke-width="0.6" stroke-linejoin="round">
<path d="M172.9,212.8 316.9,212.8 316.9,355.8 261.3,355.8 256.9,351.2 253.9,348.4 251.8,346.8 248.4,344.8 236.6,338.8 224.9,334.4 219.9,332.2 203.9,324.3 193.8,318.8 178.9,311.7 172.9,308.1Z" fill="#446bab" fill-rule="evenodd"/>
<path d="M172.9,212.8 316.9,212.8 316.9,355.8 273.3,355.8 267.4,349.8 263.1,345.8 259.5,342.8 255.9,340.2 245.9,334.1 232.9,327.3 225.2,322.8 194.5,302.8 180.9,294.5 172.9,289.2Z" fill="#5775b2" fill-rule="evenodd"/>
<path d="M172.9,212.8 316.9,212.8 316.9,355.8 284.1,355.8 272.6,344.8 267.9,340.7 262.8,336.8 251.9,329.5 236.9,320.7 228.9,315.5 215.3,305.8 207.9,300.8 194.9,291.1 187.3,285.8 176.9,277.7 172.9,274.8Z" fill="#6e7ca7" fill-rule="evenodd"/>
<path d="M172.9,212.8 316.9,212.8 316.9,355.8 294.7,355.8 280.6,342.8 269.9,334.0 263.9,329.6 255.9,324.1 237.9,312.9 225.9,304.1 216.9,297.9 205.5,288.8 195.9,281.6 179.9,267.8 176.9,265.5 172.9,262.7Z" fill="#85849b" fill-rule="evenodd"/>
<path d="M172.9,212.8 316.9,212.8 316.9,355.8 305.4,355.8 290.8,342.8 277.5,331.8 263.9,321.7 242.9,307.0 221.9,291.3 199.9,273.8 182.9,259.0 177.9,255.2 172.9,251.8Z" fill="#9b8c8b" fill-rule="evenodd"/>
<path d="M172.9,212.8 316.9,212.8 316.9,355.8 316.2,355.8 302.4,343.8 289.0,332.8 256.6,307.8 238.9,293.4 205.9,267.2 186.9,251.2 180.9,246.7 172.9,241.4Z" fill="#b2947a" fill-rule="evenodd"/>
<path d="M172.9,212.8 316.9,212.8 316.9,347.0 302.0,334.8 278.7,316.8 269.9,309.8 260.7,301.8 243.9,286.3 216.9,264.0 189.9,242.5 183.3,237.8 172.9,231.0Z" fill="#c99c6b" fill-rule="evenodd"/>
<path d="M172.9,212.8 316.9,212.8 316.9,338.0 306.4,329.8 285.9,314.5 276.5,306.8 271.9,302.8 266.7,297.8 253.9,284.3 249.9,280.4 234.9,267.0 221.7,255.8 211.5,247.8 187.9,230.3 181.9,226.1 172.9,220.3Z" fill="#e0a45b" fill-rule="evenodd"/>
<path d="M177.3,212.8 316.9,212.8 316.9,329.3 289.9,309.6 285.0,305.8 280.9,302.2 277.2,298.8 273.3,294.8 260.2,279.8 253.9,273.3 239.9,260.1 227.9,249.8 216.9,241.0 204.9,232.9 198.9,228.6 184.9,217.4Z" fill="#e8a655" fill-rule="evenodd"/>
<path d="M190.6,212.8 316.9,212.8 316.9,320.7 292.9,303.8 288.9,300.7 284.9,297.3 279.6,291.8 267.4,276.8 262.0,270.8 251.9,260.8 241.0,250.8 232.6,243.8 223.7,236.8 219.9,234.1 210.9,228.5 205.5,224.8 200.3,220.8Z" fill="#eca651" fill-rule="evenodd"/>
<path d="M200.7,212.8 316.9,212.8 316.9,312.0 296.6,297.8 289.9,292.6 286.4,288.8 274.5,273.8 267.9,266.3 259.3,257.8 247.1,246.8 241.0,241.8 233.1,235.8 224.9,230.0 210.9,220.9 205.9,217.2Z" fill="#eeaa57" fill-rule="evenodd"/>
<path d="M210.2,212.8 316.9,212.8 316.9,303.1 304.3,293.8 297.1,287.8 291.3,281.8 280.3,268.8 273.0,260.8 265.7,253.8 254.9,244.5 249.1,239.8 242.4,234.8 235.1,229.8 218.9,219.4 214.9,216.5Z" fill="#f0b061" fill-rule="evenodd"/>
<path d="M219.7,212.8 316.9,212.8 316.9,293.4 308.8,286.8 302.3,280.8 298.4,276.8 287.6,264.8 281.9,258.8 275.9,253.0 269.9,247.8 260.0,239.8 251.8,233.8 244.3,228.8 226.9,217.9Z" fill="#f1b467" fill-rule="evenodd"/>
<path d="M229.7,212.8 316.9,212.8 316.9,282.9 309.5,275.8 289.2,254.8 283.9,249.8 278.9,245.5 268.8,237.8 258.7,230.8 252.5,226.8 235.9,216.9Z" fill="#f2b76b" fill-rule="evenodd"/>
<path d="M240.4,212.8 316.9,212.8 316.9,271.8 295.9,250.5 290.8,245.8 284.7,240.8 277.8,235.8 268.9,229.8 257.9,223.1Z" fill="#f5c075" fill-rule="evenodd"/>
<path d="M252.0,212.8 316.9,212.8 316.9,261.2 312.9,257.3 307.0,251.8 298.9,243.8 293.9,239.5 288.9,235.6 283.5,231.8 274.1,225.8Z" fill="#f8cc82" fill-rule="evenodd"/>
<path d="M263.2,212.8 316.9,212.8 316.9,252.3 311.9,247.9 301.9,238.2 298.0,234.8 294.1,231.8 286.7,226.8 269.7,216.8Z" fill="#fbd58d" fill-rule="evenodd"/>
<path d="M273.8,212.8 316.9,212.8 316.9,244.1 305.9,233.8 302.4,230.8 298.9,228.1 290.9,222.8 279.9,216.6Z" fill="#fcdc96" fill-rule="evenodd"/>
<path d="M284.4,212.8 316.9,212.8 316.9,235.6 309.9,229.2 304.2,224.8 296.9,220.1Z" fill="#fde4a4" fill-rule="evenodd"/>
<path d="M295.2,212.8 316.9,212.8 316.9,227.5 309.5,221.8Z" fill="#feedb5" fill-rule="evenodd"/>
<path d="M305.2,212.8 316.9,212.8 316.9,220.6Z" fill="#fef1be" fill-rule="evenodd"/>
</g>
<path d="M265.3,352.6 263.7,352.4 262.0,352.2 260.4,351.9 258.8,351.4 257.3,350.8 255.8,350.0 254.5,348.9 253.5,347.6 252.8,346.1 252.5,344.5 252.6,342.8 252.9,341.2 253.6,339.7 254.4,338.2 255.2,336.8 256.1,335.4 257.0,333.9 257.8,332.5 258.6,331.0 259.4,329.6 260.3,328.2 261.1,326.8 262.0,325.5 262.9,324.1 263.8,322.8 264.8,321.5 265.8,320.2 266.9,318.9 267.9,317.6 268.9,316.3 269.9,315.0 271.0,313.7 272.0,312.4 273.0,311.1 274.0,309.8 275.0,308.5 276.1,307.2 277.1,306.0 278.2,304.7 279.2,303.5 280.3,302.2 281.4,301.0 282.5,299.8 283.7,298.6 284.8,297.4 285.9,296.2 287.0,294.9 288.1,293.7 289.2,292.5 290.2,291.2 291.3,290.0 292.4,288.7 293.4,287.5 294.5,286.2 295.6,284.9 296.6,283.7 297.6,282.4 298.7,281.1 299.7,279.8 300.8,278.6 301.8,277.3 302.8,276.0 303.8,274.7 304.9,273.4 305.9,272.1 306.9,270.9 308.0,269.6 309.0,268.3 310.0,267.0 311.0,265.7 312.1,264.4 313.1,263.2 314.1,261.9 315.2,260.6 316.2,259.3 317.3,258.1 318.3,256.8 319.4,255.5 320.4,254.3 321.5,253.0 322.5,251.8 323.6,250.5 324.7,249.2 325.7,248.0 326.8,246.7 327.8,245.5 328.9,244.2 330.0,243.0 331.0,241.7 332.9,241.7 332.9,362.6 265.3,362.6Z" fill="#fff"/>
<path d="M265.3,352.6 263.7,352.4 262.0,352.2 260.4,351.9 258.8,351.4 257.3,350.8 255.8,350.0 254.5,348.9 253.5,347.6 252.8,346.1 252.5,344.5 252.6,342.8 252.9,341.2 253.6,339.7 254.4,338.2 255.2,336.8 256.1,335.4 257.0,333.9 257.8,332.5 258.6,331.0 259.4,329.6 260.3,328.2 261.1,326.8 262.0,325.5 262.9,324.1 263.8,322.8 264.8,321.5 265.8,320.2 266.9,318.9 267.9,317.6 268.9,316.3 269.9,315.0 271.0,313.7 272.0,312.4 273.0,311.1 274.0,309.8 275.0,308.5 276.1,307.2 277.1,306.0 278.2,304.7 279.2,303.5 280.3,302.2 281.4,301.0 282.5,299.8 283.7,298.6 284.8,297.4 285.9,296.2 287.0,294.9 288.1,293.7 289.2,292.5 290.2,291.2 291.3,290.0 292.4,288.7 293.4,287.5 294.5,286.2 295.6,284.9 296.6,283.7 297.6,282.4 298.7,281.1 299.7,279.8 300.8,278.6 301.8,277.3 302.8,276.0 303.8,274.7 304.9,273.4 305.9,272.1 306.9,270.9 308.0,269.6 309.0,268.3 310.0,267.0 311.0,265.7 312.1,264.4 313.1,263.2 314.1,261.9 315.2,260.6 316.2,259.3 317.3,258.1 318.3,256.8 319.4,255.5 320.4,254.3 321.5,253.0 322.5,251.8 323.6,250.5 324.7,249.2 325.7,248.0 326.8,246.7 327.8,245.5 328.9,244.2 330.0,243.0 331.0,241.7" fill="none" stroke="#d9232e" stroke-width="1.1"/>
<path d="M215.1,216.8 215.1,221.5 215.1,226.2 215.0,230.9 215.0,235.6 215.0,240.3 215.0,245.0 215.0,249.7 215.0,254.4 215.1,259.1 215.1,263.8 215.2,268.4 215.3,273.1 215.5,277.8 215.6,282.5 215.8,287.2 216.0,291.9 216.2,296.6 216.4,301.3 216.7,306.0 216.9,310.7 217.2,315.4 217.4,320.0 217.7,324.7 218.0,329.4 218.5,334.1 219.2,338.7 220.0,343.4 220.9,348.0 221.7,352.6" fill="none" stroke="#2f9a4f" stroke-width="1.3"/>
</g>
<clipPath id="cpf"><rect x="339.4" y="216.8" width="136.5" height="136.0"/></clipPath>
<g clip-path="url(#cpf)">
<rect x="338.4" y="215.8" width="138.5" height="138.0" fill="#3061a5"/>
<g stroke="#000" stroke-opacity="0.3" stroke-width="0.6" stroke-linejoin="round">
<path d="M335.4,212.8 479.4,212.8 479.4,356.8 419.5,356.8 411.8,350.8 406.4,347.4 404.4,346.6 393.5,343.8 386.4,341.4 380.1,338.8 367.4,332.8 362.4,329.8 354.4,324.2 340.0,314.8 335.4,312.0Z" fill="#3d68a9" fill-rule="evenodd"/>
<path d="M335.4,212.8 479.4,212.8 479.4,356.8 430.5,356.8 422.2,349.8 415.3,344.8 410.4,342.1 402.1,338.8 394.7,334.8 390.0,331.8 375.4,321.7 366.4,314.7 362.3,311.8 346.4,302.4 335.4,296.9Z" fill="#4a6eae" fill-rule="evenodd"/>
<path d="M335.4,212.8 479.4,212.8 479.4,356.8 440.2,356.8 429.4,347.6 421.4,341.5 415.4,337.7 406.4,333.2 400.4,329.2 397.3,326.8 389.3,319.8 379.4,312.5 371.4,305.9 368.5,303.8 349.7,292.8 345.4,290.7 335.4,286.2Z" fill="#5775b2" fill-rule="evenodd"/>
<path d="M335.4,212.8 479.4,212.8 479.4,356.8 449.5,356.8 435.1,344.8 425.4,337.3 416.4,331.2 413.4,329.5 409.4,327.5 406.4,325.5 401.4,321.3 393.4,314.0 383.4,306.9 373.7,298.8 364.4,293.3 354.4,286.9 335.4,277.8Z" fill="#677aab" fill-rule="evenodd"/>
<path d="M335.4,212.8 479.4,212.8 479.4,356.8 458.6,356.8 443.9,344.8 432.3,335.8 417.4,325.0 410.4,320.7 407.4,318.6 395.4,309.1 374.4,293.5 367.4,288.8 359.4,283.8 346.4,276.2 335.4,270.2Z" fill="#767fa3" fill-rule="evenodd"/>
<path d="M335.4,212.8 479.4,212.8 479.4,356.8 467.6,356.8 452.6,344.8 439.5,334.8 425.6,324.8 410.4,314.3 398.9,305.8 390.4,299.0 379.4,291.7 371.4,285.4 366.4,282.1 359.4,278.0 349.4,271.0 335.4,262.3Z" fill="#85849b" fill-rule="evenodd"/>
<path d="M335.4,212.8 479.4,212.8 479.4,356.8 476.7,356.8 462.7,345.8 450.8,336.8 436.9,326.8 419.3,314.8 406.1,304.8 395.4,296.3 383.4,287.8 375.4,281.6 363.4,273.6 352.4,265.5 335.4,254.2Z" fill="#958a90" fill-rule="evenodd"/>
<path d="M335.4,212.8 479.4,212.8 479.4,351.8 464.9,340.8 452.6,331.8 442.5,324.8 422.4,311.3 414.2,304.8 402.4,295.0 388.9,284.8 381.3,278.8 369.4,270.4 359.3,262.8 341.4,250.4 335.4,246.6Z" fill="#a48f85" fill-rule="evenodd"/>
<path d="M335.4,212.8 479.4,212.8 479.4,345.0 457.0,328.8 426.4,308.2 419.6,302.8 405.4,290.7 385.2,274.8 362.4,257.8 343.4,244.6 335.4,239.5Z" fill="#b3947a" fill-rule="evenodd"/>
<path d="M335.4,212.8 479.4,212.8 479.4,338.4 461.5,325.8 437.4,309.8 431.4,305.6 424.4,300.2 408.8,286.8 395.4,275.9 370.4,256.7 344.4,238.4 335.4,232.7Z" fill="#c29a6f" fill-rule="evenodd"/>
<path d="M335.4,212.8 479.4,212.8 479.4,332.0 464.5,321.8 441.7,306.8 434.6,301.8 427.1,295.8 399.4,272.1 394.4,268.2 385.4,261.6 373.5,251.8 369.3,248.8 359.4,242.4 345.4,232.3 335.4,226.0Z" fill="#d29f65" fill-rule="evenodd"/>
<path d="M335.4,212.8 479.4,212.8 479.4,325.7 447.6,304.8 439.0,298.8 430.3,291.8 403.4,268.2 397.4,263.4 389.4,257.7 377.4,247.4 372.3,243.8 362.4,237.9 356.4,233.6 344.4,224.7 335.4,218.8Z" fill="#e2a55a" fill-rule="evenodd"/>
<path d="M336.7,212.8 479.4,212.8 479.4,319.5 452.2,301.8 442.1,294.8 438.2,291.8 433.6,287.8 418.4,273.7 409.4,265.8 400.4,258.3 380.8,242.8 374.4,238.2 365.4,233.3 360.4,230.2 353.4,225.0 344.4,217.3Z" fill="#e7a656" fill-rule="evenodd"/>
<path d="M346.4,212.8 479.4,212.8 479.4,313.3 455.4,297.9 445.2,290.8 441.4,287.8 436.4,283.4 420.4,267.8 399.0,249.8 377.4,234.0 375.4,232.8 366.4,228.3 360.4,224.5 355.7,220.8 348.9,214.8Z" fill="#eaa653" fill-rule="evenodd"/>
<path d="M353.0,212.8 479.4,212.8 479.4,307.2 457.4,293.0 451.3,288.8 446.4,285.1 439.4,279.0 428.0,267.8 423.4,263.5 400.5,244.8 389.1,236.8 381.6,231.8 377.4,229.3 368.4,224.5 364.4,222.1 359.4,218.4Z" fill="#eca651" fill-rule="evenodd"/>
<path d="M359.1,212.8 479.4,212.8 479.4,301.1 460.5,288.8 450.7,281.8 444.4,276.4 432.2,264.8 425.5,258.8 418.0,252.8 403.4,241.5 396.6,236.8 387.2,230.8 368.4,220.0 363.9,216.8Z" fill="#eea955" fill-rule="evenodd"/>
<path d="M365.1,212.8 479.4,212.8 479.4,294.9 464.0,284.8 454.4,277.9 448.4,272.9 436.3,261.8 429.4,255.8 421.8,249.8 408.2,239.8 402.4,235.8 396.0,231.8 373.4,218.8 369.4,216.1Z" fill="#efad5b" fill-rule="evenodd"/>
<path d="M371.2,212.8 479.4,212.8 479.4,288.6 466.4,280.0 458.4,274.2 452.4,269.3 439.3,257.8 433.3,252.8 426.7,247.8 416.9,240.8 404.9,232.8 398.1,228.8 380.0,218.8 375.3,215.8Z" fill="#f0b162" fill-rule="evenodd"/>
<path d="M377.3,212.8 479.4,212.8 479.4,282.3 469.4,275.5 461.5,269.8 456.4,265.8 439.4,251.5 433.1,246.8 426.0,241.8 417.0,235.8 410.6,231.8 403.5,227.8 388.4,219.8 382.4,216.2Z" fill="#f0b366" fill-rule="evenodd"/>
<path d="M383.6,212.8 479.4,212.8 479.4,275.8 465.1,265.8 443.8,248.8 438.4,244.8 432.5,240.8 423.1,234.8 416.4,230.8 409.2,226.8 393.4,218.8 388.4,215.9Z" fill="#f1b568" fill-rule="evenodd"/>
<path d="M390.1,212.8 479.4,212.8 479.4,269.3 466.4,260.0 454.6,250.8 448.0,245.8 437.7,238.8 429.5,233.8 420.7,228.8 413.0,224.8 397.4,217.1Z" fill="#f2b76b" fill-rule="evenodd"/>
<path d="M397.0,212.8 479.4,212.8 479.4,262.8 469.4,255.6 456.4,245.8 449.3,240.8 443.0,236.8 434.4,231.8 425.1,226.8 404.4,216.8Z" fill="#f4bd72" fill-rule="evenodd"/>
<path d="M404.7,212.8 479.4,212.8 479.4,256.3 459.4,241.8 446.8,233.8 433.8,226.8 412.6,216.8Z" fill="#f6c67b" fill-rule="evenodd"/>
<path d="M412.9,212.8 479.4,212.8 479.4,250.2 470.4,244.2 462.4,238.2 450.3,230.8 436.7,223.8 421.0,216.8Z" fill="#f9ce83" fill-rule="evenodd"/>
<path d="M421.5,212.8 479.4,212.8 479.4,244.8 474.4,241.7 463.4,233.7 452.4,227.2 441.6,221.8Z" fill="#fbd48b" fill-rule="evenodd"/>
<path d="M431.0,212.8 479.4,212.8 479.4,239.7 476.4,237.8 464.4,229.3 456.4,224.5 446.4,219.6Z" fill="#fcd891" fill-rule="evenodd"/>
<path d="M441.5,212.8 479.4,212.8 479.4,234.3 467.4,225.8 462.4,222.7 453.4,218.0Z" fill="#fddd97" fill-rule="evenodd"/>
<path d="M453.0,212.8 479.4,212.8 479.4,228.7 475.4,225.9 469.4,221.3 466.4,219.3 460.4,216.2Z" fill="#fde2a0" fill-rule="evenodd"/>
<path d="M464.5,212.8 479.4,212.8 479.4,222.9 476.6,220.8 471.7,216.8 468.4,214.8Z" fill="#fee8ac" fill-rule="evenodd"/>
</g>
<path d="M430.4,352.8 428.4,352.6 426.4,352.4 424.5,352.1 422.5,351.9 420.5,351.6 418.6,351.3 416.6,350.9 414.7,350.5 412.8,349.9 410.9,349.3 409.0,348.6 407.3,347.6 405.9,346.2 404.9,344.4 404.6,342.5 404.8,340.5 405.5,338.6 406.4,336.8 407.5,335.0 408.6,333.4 409.7,331.8 410.9,330.2 412.1,328.6 413.2,327.0 414.4,325.4 415.5,323.8 416.7,322.2 417.8,320.6 419.0,318.9 420.1,317.3 421.3,315.7 422.4,314.1 423.6,312.5 424.8,310.9 426.0,309.3 427.2,307.7 428.4,306.2 429.6,304.6 430.8,303.0 432.0,301.4 433.2,299.9 434.4,298.3 435.6,296.7 436.8,295.2 438.0,293.6 439.3,292.0 440.5,290.5 441.7,288.9 442.9,287.4 444.2,285.8 445.4,284.3 446.6,282.7 447.9,281.2 449.2,279.6 450.4,278.1 451.7,276.6 453.0,275.1 454.2,273.6 455.5,272.0 456.8,270.5 458.1,269.0 459.4,267.5 460.7,266.0 461.9,264.5 463.2,263.0 464.5,261.5 465.8,260.0 467.1,258.5 468.4,257.0 469.7,255.5 471.0,254.0 472.3,252.5 473.6,251.0 474.9,249.5 476.2,248.0 477.5,246.5 478.8,245.0 480.0,243.4 481.3,241.9 482.6,240.4 483.9,238.9 485.2,237.4 486.4,235.9 487.7,234.4 489.0,232.8 490.3,231.3 491.6,229.8 492.8,228.3 494.1,226.8 495.9,226.8 495.9,362.8 430.4,362.8Z" fill="#fff"/>
<path d="M430.4,352.8 428.4,352.6 426.4,352.4 424.5,352.1 422.5,351.9 420.5,351.6 418.6,351.3 416.6,350.9 414.7,350.5 412.8,349.9 410.9,349.3 409.0,348.6 407.3,347.6 405.9,346.2 404.9,344.4 404.6,342.5 404.8,340.5 405.5,338.6 406.4,336.8 407.5,335.0 408.6,333.4 409.7,331.8 410.9,330.2 412.1,328.6 413.2,327.0 414.4,325.4 415.5,323.8 416.7,322.2 417.8,320.6 419.0,318.9 420.1,317.3 421.3,315.7 422.4,314.1 423.6,312.5 424.8,310.9 426.0,309.3 427.2,307.7 428.4,306.2 429.6,304.6 430.8,303.0 432.0,301.4 433.2,299.9 434.4,298.3 435.6,296.7 436.8,295.2 438.0,293.6 439.3,292.0 440.5,290.5 441.7,288.9 442.9,287.4 444.2,285.8 445.4,284.3 446.6,282.7 447.9,281.2 449.2,279.6 450.4,278.1 451.7,276.6 453.0,275.1 454.2,273.6 455.5,272.0 456.8,270.5 458.1,269.0 459.4,267.5 460.7,266.0 461.9,264.5 463.2,263.0 464.5,261.5 465.8,260.0 467.1,258.5 468.4,257.0 469.7,255.5 471.0,254.0 472.3,252.5 473.6,251.0 474.9,249.5 476.2,248.0 477.5,246.5 478.8,245.0 480.0,243.4 481.3,241.9 482.6,240.4 483.9,238.9 485.2,237.4 486.4,235.9 487.7,234.4 489.0,232.8 490.3,231.3 491.6,229.8 492.8,228.3 494.1,226.8" fill="none" stroke="#d9232e" stroke-width="1.1"/>
<path d="M372.8,216.8 372.7,221.6 372.7,226.4 372.7,231.2 372.7,236.0 372.7,240.8 372.6,245.7 372.6,250.5 372.6,255.3 372.7,260.1 372.7,264.9 372.7,269.7 372.7,274.5 372.7,279.3 372.8,284.1 372.8,288.9 372.7,293.7 372.7,298.5 372.6,303.3 372.6,308.2 372.5,313.0 372.4,317.8 372.5,322.6 372.8,327.4 373.2,332.2 374.0,337.0 375.3,341.6 377.6,345.8 380.8,349.4 384.2,352.8" fill="none" stroke="#2f9a4f" stroke-width="1.3"/>
</g>
<rect x="17.3" y="29.3" width="136.3" height="135.9" fill="none" stroke="#4a4a4a" stroke-width="1"/>
<path d="M17.3,165.2v2.2M17.3,165.2h-2.2M40.0,165.2v2.2M17.3,142.5h-2.2M62.7,165.2v2.2M17.3,119.9h-2.2M85.4,165.2v2.2M17.3,97.2h-2.2M108.2,165.2v2.2M17.3,74.6h-2.2M130.9,165.2v2.2M17.3,52.0h-2.2M153.6,165.2v2.2M17.3,29.3h-2.2" stroke="#333" stroke-width="1" fill="none"/>
<g font-family="'Liberation Serif','Times New Roman',serif" font-size="7.7" fill="#222">
<text x="17.9" y="177.2" text-anchor="middle">0.0</text>
<text x="13.8" y="167.8" text-anchor="end">0.0</text>
<text x="40.6" y="177.2" text-anchor="middle">0.5</text>
<text x="13.8" y="145.1" text-anchor="end">0.5</text>
<text x="63.3" y="177.2" text-anchor="middle">1.0</text>
<text x="13.8" y="122.5" text-anchor="end">1.0</text>
<text x="86.0" y="177.2" text-anchor="middle">1.5</text>
<text x="13.8" y="99.8" text-anchor="end">1.5</text>
<text x="108.8" y="177.2" text-anchor="middle">2.0</text>
<text x="13.8" y="77.2" text-anchor="end">2.0</text>
<text x="131.5" y="177.2" text-anchor="middle">2.5</text>
<text x="13.8" y="54.6" text-anchor="end">2.5</text>
<text x="154.2" y="177.2" text-anchor="middle">3.0</text>
<text x="13.8" y="31.9" text-anchor="end">3.0</text>
</g>
<g font-family="'Liberation Serif','Times New Roman',serif" fill="#222">
<text x="12.9" y="12.3" font-size="12">(a)</text>
<text x="17.8" y="26.3" font-size="11.5" font-style="italic">v</text>
<text x="146.5" y="184.6" font-size="11.5" font-style="italic">q</text>
<text x="67.2" y="24.1" font-size="11.5"><tspan font-style="italic">y</tspan> = 0.1</text>
</g>
<rect x="177.3" y="29.3" width="136.3" height="135.9" fill="none" stroke="#4a4a4a" stroke-width="1"/>
<path d="M177.3,165.2v2.2M177.3,165.2h-2.2M200.0,165.2v2.2M177.3,142.5h-2.2M222.7,165.2v2.2M177.3,119.9h-2.2M245.5,165.2v2.2M177.3,97.2h-2.2M268.2,165.2v2.2M177.3,74.6h-2.2M290.9,165.2v2.2M177.3,52.0h-2.2M313.6,165.2v2.2M177.3,29.3h-2.2" stroke="#333" stroke-width="1" fill="none"/>
<g font-family="'Liberation Serif','Times New Roman',serif" font-size="7.7" fill="#222">
<text x="177.9" y="177.2" text-anchor="middle">0.0</text>
<text x="173.8" y="167.8" text-anchor="end">0.0</text>
<text x="200.6" y="177.2" text-anchor="middle">0.5</text>
<text x="173.8" y="145.1" text-anchor="end">0.5</text>
<text x="223.3" y="177.2" text-anchor="middle">1.0</text>
<text x="173.8" y="122.5" text-anchor="end">1.0</text>
<text x="246.1" y="177.2" text-anchor="middle">1.5</text>
<text x="173.8" y="99.8" text-anchor="end">1.5</text>
<text x="268.8" y="177.2" text-anchor="middle">2.0</text>
<text x="173.8" y="77.2" text-anchor="end">2.0</text>
<text x="291.5" y="177.2" text-anchor="middle">2.5</text>
<text x="173.8" y="54.6" text-anchor="end">2.5</text>
<text x="314.2" y="177.2" text-anchor="middle">3.0</text>
<text x="173.8" y="31.9" text-anchor="end">3.0</text>
</g>
<g font-family="'Liberation Serif','Times New Roman',serif" fill="#222">
<text x="172.9" y="12.3" font-size="12">(b)</text>
<text x="177.8" y="26.3" font-size="11.5" font-style="italic">v</text>
<text x="308.9" y="184.6" font-size="11.5" font-style="italic">q</text>
<text x="227.2" y="24.1" font-size="11.5"><tspan font-style="italic">y</tspan> = 0.3</text>
</g>
<rect x="340.7" y="29.3" width="136.3" height="135.7" fill="none" stroke="#4a4a4a" stroke-width="1"/>
<path d="M340.7,165.0v2.2M340.7,165.0h-2.2M363.4,165.0v2.2M340.7,142.4h-2.2M386.1,165.0v2.2M340.7,119.8h-2.2M408.9,165.0v2.2M340.7,97.2h-2.2M431.6,165.0v2.2M340.7,74.5h-2.2M454.3,165.0v2.2M340.7,51.9h-2.2M477.0,165.0v2.2M340.7,29.3h-2.2" stroke="#333" stroke-width="1" fill="none"/>
<g font-family="'Liberation Serif','Times New Roman',serif" font-size="7.7" fill="#222">
<text x="341.3" y="177.0" text-anchor="middle">0.0</text>
<text x="337.2" y="167.6" text-anchor="end">0.0</text>
<text x="364.0" y="177.0" text-anchor="middle">0.5</text>
<text x="337.2" y="145.0" text-anchor="end">0.5</text>
<text x="386.7" y="177.0" text-anchor="middle">1.0</text>
<text x="337.2" y="122.4" text-anchor="end">1.0</text>
<text x="409.5" y="177.0" text-anchor="middle">1.5</text>
<text x="337.2" y="99.8" text-anchor="end">1.5</text>
<text x="432.2" y="177.0" text-anchor="middle">2.0</text>
<text x="337.2" y="77.1" text-anchor="end">2.0</text>
<text x="454.9" y="177.0" text-anchor="middle">2.5</text>
<text x="337.2" y="54.5" text-anchor="end">2.5</text>
<text x="477.6" y="177.0" text-anchor="middle">3.0</text>
<text x="337.2" y="31.9" text-anchor="end">3.0</text>
</g>
<g font-family="'Liberation Serif','Times New Roman',serif" fill="#222">
<text x="336.3" y="12.3" font-size="12">(c)</text>
<text x="341.2" y="26.3" font-size="11.5" font-style="italic">v</text>
<text x="471.5" y="184.4" font-size="11.5" font-style="italic">q</text>
<text x="391.8" y="24.1" font-size="11.5"><tspan font-style="italic">y</tspan> = 0.5</text>
</g>
<rect x="17.4" y="216.9" width="136.4" height="136.0" fill="none" stroke="#4a4a4a" stroke-width="1"/>
<path d="M17.4,352.9v2.2M17.4,352.9h-2.2M40.1,352.9v2.2M17.4,330.2h-2.2M62.9,352.9v2.2M17.4,307.6h-2.2M85.6,352.9v2.2M17.4,284.9h-2.2M108.3,352.9v2.2M17.4,262.2h-2.2M131.1,352.9v2.2M17.4,239.6h-2.2M153.8,352.9v2.2M17.4,216.9h-2.2" stroke="#333" stroke-width="1" fill="none"/>
<g font-family="'Liberation Serif','Times New Roman',serif" font-size="7.7" fill="#222">
<text x="18.0" y="364.9" text-anchor="middle">0.0</text>
<text x="13.9" y="355.5" text-anchor="end">0.0</text>
<text x="40.7" y="364.9" text-anchor="middle">0.5</text>
<text x="13.9" y="332.8" text-anchor="end">0.5</text>
<text x="63.5" y="364.9" text-anchor="middle">1.0</text>
<text x="13.9" y="310.2" text-anchor="end">1.0</text>
<text x="86.2" y="364.9" text-anchor="middle">1.5</text>
<text x="13.9" y="287.5" text-anchor="end">1.5</text>
<text x="108.9" y="364.9" text-anchor="middle">2.0</text>
<text x="13.9" y="264.8" text-anchor="end">2.0</text>
<text x="131.7" y="364.9" text-anchor="middle">2.5</text>
<text x="13.9" y="242.2" text-anchor="end">2.5</text>
<text x="154.4" y="364.9" text-anchor="middle">3.0</text>
<text x="13.9" y="219.5" text-anchor="end">3.0</text>
</g>
<g font-family="'Liberation Serif','Times New Roman',serif" fill="#222">
<text x="13.0" y="199.9" font-size="12">(d)</text>
<text x="17.9" y="213.9" font-size="11.5" font-style="italic">v</text>
<text x="146.8" y="372.3" font-size="11.5" font-style="italic">q</text>
<text x="67.3" y="211.7" font-size="11.5"><tspan font-style="italic">y</tspan> = 0.1</text>
</g>
<rect x="176.9" y="216.8" width="136.0" height="135.8" fill="none" stroke="#4a4a4a" stroke-width="1"/>
<path d="M176.9,352.6v2.2M176.9,352.6h-2.2M199.6,352.6v2.2M176.9,330.0h-2.2M222.2,352.6v2.2M176.9,307.3h-2.2M244.9,352.6v2.2M176.9,284.7h-2.2M267.6,352.6v2.2M176.9,262.1h-2.2M290.2,352.6v2.2M176.9,239.4h-2.2M312.9,352.6v2.2M176.9,216.8h-2.2" stroke="#333" stroke-width="1" fill="none"/>
<g font-family="'Liberation Serif','Times New Roman',serif" font-size="7.7" fill="#222">
<text x="177.5" y="364.6" text-anchor="middle">0.0</text>
<text x="173.4" y="355.2" text-anchor="end">0.0</text>
<text x="200.2" y="364.6" text-anchor="middle">0.5</text>
<text x="173.4" y="332.6" text-anchor="end">0.5</text>
<text x="222.8" y="364.6" text-anchor="middle">1.0</text>
<text x="173.4" y="309.9" text-anchor="end">1.0</text>
<text x="245.5" y="364.6" text-anchor="middle">1.5</text>
<text x="173.4" y="287.3" text-anchor="end">1.5</text>
<text x="268.2" y="364.6" text-anchor="middle">2.0</text>
<text x="173.4" y="264.7" text-anchor="end">2.0</text>
<text x="290.8" y="364.6" text-anchor="middle">2.5</text>
<text x="173.4" y="242.0" text-anchor="end">2.5</text>
<text x="313.5" y="364.6" text-anchor="middle">3.0</text>
<text x="173.4" y="219.4" text-anchor="end">3.0</text>
</g>
<g font-family="'Liberation Serif','Times New Roman',serif" fill="#222">
<text x="172.5" y="199.8" font-size="12">(e)</text>
<text x="177.4" y="213.8" font-size="11.5" font-style="italic">v</text>
<text x="313.5" y="372.0" font-size="11.5" font-style="italic">q</text>
<text x="226.8" y="211.6" font-size="11.5"><tspan font-style="italic">y</tspan> = 0.3</text>
</g>
<rect x="339.4" y="216.8" width="136.5" height="136.0" fill="none" stroke="#4a4a4a" stroke-width="1"/>
<path d="M339.4,352.8v2.2M339.4,352.8h-2.2M362.1,352.8v2.2M339.4,330.1h-2.2M384.9,352.8v2.2M339.4,307.5h-2.2M407.6,352.8v2.2M339.4,284.8h-2.2M430.4,352.8v2.2M339.4,262.1h-2.2M453.1,352.8v2.2M339.4,239.5h-2.2M475.9,352.8v2.2M339.4,216.8h-2.2" stroke="#333" stroke-width="1" fill="none"/>
<g font-family="'Liberation Serif','Times New Roman',serif" font-size="7.7" fill="#222">
<text x="340.0" y="364.8" text-anchor="middle">0.0</text>
<text x="335.9" y="355.4" text-anchor="end">0.0</text>
<text x="362.8" y="364.8" text-anchor="middle">0.5</text>
<text x="335.9" y="332.7" text-anchor="end">0.5</text>
<text x="385.5" y="364.8" text-anchor="middle">1.0</text>
<text x="335.9" y="310.1" text-anchor="end">1.0</text>
<text x="408.2" y="364.8" text-anchor="middle">1.5</text>
<text x="335.9" y="287.4" text-anchor="end">1.5</text>
<text x="431.0" y="364.8" text-anchor="middle">2.0</text>
<text x="335.9" y="264.7" text-anchor="end">2.0</text>
<text x="453.8" y="364.8" text-anchor="middle">2.5</text>
<text x="335.9" y="242.1" text-anchor="end">2.5</text>
<text x="476.5" y="364.8" text-anchor="middle">3.0</text>
<text x="335.9" y="219.4" text-anchor="end">3.0</text>
</g>
<g font-family="'Liberation Serif','Times New Roman',serif" fill="#222">
<text x="335.0" y="199.8" font-size="12">(f)</text>
<text x="339.9" y="213.8" font-size="11.5" font-style="italic">v</text>
<text x="470.9" y="372.2" font-size="11.5" font-style="italic">q</text>
<text x="390.5" y="211.6" font-size="11.5"><tspan font-style="italic">y</tspan> = 0.5</text>
</g>
<g>
<rect x="493.5" y="158.20" width="9.4" height="4.60" fill="#3061a5"/>
<rect x="493.5" y="153.89" width="9.4" height="4.60" fill="#3061a5"/>
<rect x="493.5" y="149.59" width="9.4" height="4.60" fill="#3c67a9"/>
<rect x="493.5" y="145.29" width="9.4" height="4.60" fill="#486dad"/>
<rect x="493.5" y="140.98" width="9.4" height="4.60" fill="#5573b1"/>
<rect x="493.5" y="136.68" width="9.4" height="4.60" fill="#6379ac"/>
<rect x="493.5" y="132.38" width="9.4" height="4.60" fill="#727ea5"/>
<rect x="493.5" y="128.07" width="9.4" height="4.60" fill="#80839e"/>
<rect x="493.5" y="123.77" width="9.4" height="4.60" fill="#8e8795"/>
<rect x="493.5" y="119.47" width="9.4" height="4.60" fill="#9c8c8b"/>
<rect x="493.5" y="115.16" width="9.4" height="4.60" fill="#aa9180"/>
<rect x="493.5" y="110.86" width="9.4" height="4.60" fill="#b99675"/>
<rect x="493.5" y="106.56" width="9.4" height="4.60" fill="#c89c6b"/>
<rect x="493.5" y="102.25" width="9.4" height="4.60" fill="#d7a162"/>
<rect x="493.5" y="97.95" width="9.4" height="4.60" fill="#e5a658"/>
<rect x="493.5" y="93.65" width="9.4" height="4.60" fill="#e8a655"/>
<rect x="493.5" y="89.35" width="9.4" height="4.60" fill="#eca651"/>
<rect x="493.5" y="85.04" width="9.4" height="4.60" fill="#eea956"/>
<rect x="493.5" y="80.74" width="9.4" height="4.60" fill="#efaf5e"/>
<rect x="493.5" y="76.44" width="9.4" height="4.60" fill="#f0b365"/>
<rect x="493.5" y="72.13" width="9.4" height="4.60" fill="#f1b569"/>
<rect x="493.5" y="67.83" width="9.4" height="4.60" fill="#f2b86c"/>
<rect x="493.5" y="63.53" width="9.4" height="4.60" fill="#f5c075"/>
<rect x="493.5" y="59.22" width="9.4" height="4.60" fill="#f7c97e"/>
<rect x="493.5" y="54.92" width="9.4" height="4.60" fill="#fad187"/>
<rect x="493.5" y="50.62" width="9.4" height="4.60" fill="#fbd68d"/>
<rect x="493.5" y="46.31" width="9.4" height="4.60" fill="#fcda94"/>
<rect x="493.5" y="42.01" width="9.4" height="4.60" fill="#fddf9a"/>
<rect x="493.5" y="37.71" width="9.4" height="4.60" fill="#fde5a6"/>
<rect x="493.5" y="33.40" width="9.4" height="4.60" fill="#feebb2"/>
<rect x="493.5" y="29.10" width="9.4" height="4.60" fill="#fef1be"/>
<path d="M493.5,158.20H502.9M493.5,149.59H502.9M493.5,145.29H502.9M493.5,136.68H502.9M493.5,132.38H502.9M493.5,123.77H502.9M493.5,119.47H502.9M493.5,110.86H502.9M493.5,106.56H502.9M493.5,97.95H502.9M493.5,93.65H502.9M493.5,85.04H502.9M493.5,80.74H502.9M493.5,72.13H502.9M493.5,67.83H502.9M493.5,59.22H502.9M493.5,54.92H502.9M493.5,46.31H502.9M493.5,42.01H502.9M493.5,33.40H502.9" stroke="#000" stroke-opacity="0.25" stroke-width="0.4"/>
<path d="M493.5,153.89H502.9M493.5,140.98H502.9M493.5,128.07H502.9M493.5,115.16H502.9M493.5,102.25H502.9M493.5,89.35H502.9M493.5,76.44H502.9M493.5,63.53H502.9M493.5,50.62H502.9M493.5,37.71H502.9" stroke="#111" stroke-width="0.9"/>
<rect x="493.5" y="29.1" width="9.4" height="133.4" fill="none" stroke="#222" stroke-width="0.9"/>
<g font-family="'Liberation Serif','Times New Roman',serif" font-size="7.7" fill="#222">
<text x="508.5" y="156.5">0.10</text>
<text x="508.5" y="143.6">0.25</text>
<text x="508.5" y="130.7">0.40</text>
<text x="508.5" y="117.8">0.55</text>
<text x="508.5" y="104.9">0.70</text>
<text x="508.5" y="91.9">0.85</text>
<text x="508.5" y="79.0">1.00</text>
<text x="508.5" y="66.1">1.15</text>
<text x="508.5" y="53.2">1.30</text>
<text x="508.5" y="40.3">1.45</text>
</g></g>
<g font-family="'Liberation Serif','Times New Roman',serif" fill="#222" font-size="12.4">
<text x="466.5" y="18.1">(</text>
<text x="469.5" y="18.1" font-style="italic">W</text>
<text x="480.4" y="21.5" font-style="italic" font-size="6.0">maxR</text>
<path d="M498.1,14.4h4.6" stroke="#9a9a9a" stroke-width="0.6"/>
<text x="504.5" y="18.1" font-style="italic">W</text>
<text x="515.6" y="21.5" font-style="italic" font-size="6.0">min</text>
<text x="524.7" y="18.1">)/</text>
<text x="530.7" y="18.1" font-style="italic">W</text>
<text x="542.1" y="22.0" font-size="6">0</text>
</g>
<g font-family="'Liberation Serif','Times New Roman',serif" fill="#222" font-size="12.4">
<text x="53.7" y="384.0">(</text>
<text x="56.3" y="384.0" font-style="italic">W</text>
<text x="67.6" y="387.4" font-style="italic" font-size="6.0">maxL</text>
<path d="M86.1,380.3h4.6" stroke="#9a9a9a" stroke-width="0.6"/>
<text x="91.5" y="384.0" font-style="italic">W</text>
<text x="103.2" y="387.4" font-style="italic" font-size="6.0">maxR</text>
<text x="116.9" y="384.0">)/</text>
<text x="123.3" y="384.0" font-style="italic">W</text>
<text x="135.1" y="387.9" font-size="6">0</text>
</g>
<rect x="16.50" y="391.5" width="13.32" height="9.5" fill="#3061a5"/>
<rect x="29.52" y="391.5" width="13.32" height="9.5" fill="#5875b2"/>
<rect x="42.54" y="391.5" width="13.32" height="9.5" fill="#87859a"/>
<rect x="55.55" y="391.5" width="13.32" height="9.5" fill="#b59578"/>
<rect x="68.57" y="391.5" width="13.32" height="9.5" fill="#e5a658"/>
<rect x="81.59" y="391.5" width="13.32" height="9.5" fill="#eda650"/>
<rect x="94.61" y="391.5" width="13.32" height="9.5" fill="#f0b264"/>
<rect x="107.63" y="391.5" width="13.32" height="9.5" fill="#f2b86c"/>
<rect x="120.65" y="391.5" width="13.32" height="9.5" fill="#fad187"/>
<rect x="133.66" y="391.5" width="13.32" height="9.5" fill="#fddf9a"/>
<rect x="146.68" y="391.5" width="13.32" height="9.5" fill="#fef1be"/>
<path d="M29.52,391.5V401.0M55.55,391.5V401.0M81.59,391.5V401.0M107.63,391.5V401.0M133.66,391.5V401.0" stroke="#000" stroke-opacity="0.3" stroke-width="0.4"/>
<path d="M42.54,391.5V401.0M68.57,391.5V401.0M94.61,391.5V401.0M120.65,391.5V401.0M146.68,391.5V401.0" stroke="#111" stroke-width="0.9"/>
<rect x="16.5" y="391.5" width="143.2" height="9.5" fill="none" stroke="#222" stroke-width="0.9"/>
<g font-family="'Liberation Serif','Times New Roman',serif" font-size="7.7" fill="#222">
<text x="16.9" y="408.9" text-anchor="middle">0.0</text>
<text x="42.9" y="408.9" text-anchor="middle">0.2</text>
<text x="69.0" y="408.9" text-anchor="middle">0.4</text>
<text x="95.0" y="408.9" text-anchor="middle">0.6</text>
<text x="121.0" y="408.9" text-anchor="middle">0.8</text>
<text x="147.1" y="408.9" text-anchor="middle">1.0</text>
</g>
<rect x="174.90" y="391.5" width="7.19" height="9.5" fill="#3061a5"/>
<rect x="181.79" y="391.5" width="7.19" height="9.5" fill="#446bac"/>
<rect x="188.68" y="391.5" width="7.19" height="9.5" fill="#5875b2"/>
<rect x="195.57" y="391.5" width="7.19" height="9.5" fill="#707da6"/>
<rect x="202.46" y="391.5" width="7.19" height="9.5" fill="#87859a"/>
<rect x="209.35" y="391.5" width="7.19" height="9.5" fill="#9e8d89"/>
<rect x="216.24" y="391.5" width="7.19" height="9.5" fill="#b59578"/>
<rect x="223.13" y="391.5" width="7.19" height="9.5" fill="#cd9e68"/>
<rect x="230.02" y="391.5" width="7.19" height="9.5" fill="#e5a658"/>
<rect x="236.91" y="391.5" width="7.19" height="9.5" fill="#e9a654"/>
<rect x="243.80" y="391.5" width="7.19" height="9.5" fill="#eda650"/>
<rect x="250.70" y="391.5" width="7.19" height="9.5" fill="#eeac5a"/>
<rect x="257.59" y="391.5" width="7.19" height="9.5" fill="#f0b264"/>
<rect x="264.48" y="391.5" width="7.19" height="9.5" fill="#f1b568"/>
<rect x="271.37" y="391.5" width="7.19" height="9.5" fill="#f2b86c"/>
<rect x="278.26" y="391.5" width="7.19" height="9.5" fill="#f6c47a"/>
<rect x="285.15" y="391.5" width="7.19" height="9.5" fill="#fad187"/>
<rect x="292.04" y="391.5" width="7.19" height="9.5" fill="#fcd890"/>
<rect x="298.93" y="391.5" width="7.19" height="9.5" fill="#fddf9a"/>
<rect x="305.82" y="391.5" width="7.19" height="9.5" fill="#fee8ac"/>
<rect x="312.71" y="391.5" width="7.19" height="9.5" fill="#fef1be"/>
<path d="M181.79,391.5V401.0M188.68,391.5V401.0M195.57,391.5V401.0M209.35,391.5V401.0M216.24,391.5V401.0M223.13,391.5V401.0M236.91,391.5V401.0M243.80,391.5V401.0M250.70,391.5V401.0M264.48,391.5V401.0M271.37,391.5V401.0M278.26,391.5V401.0M292.04,391.5V401.0M298.93,391.5V401.0M305.82,391.5V401.0" stroke="#000" stroke-opacity="0.3" stroke-width="0.4"/>
<path d="M202.46,391.5V401.0M230.02,391.5V401.0M257.59,391.5V401.0M285.15,391.5V401.0M312.71,391.5V401.0" stroke="#111" stroke-width="0.9"/>
<rect x="174.9" y="391.5" width="144.7" height="9.5" fill="none" stroke="#222" stroke-width="0.9"/>
<g font-family="'Liberation Serif','Times New Roman',serif" font-size="7.7" fill="#222">
<text x="202.9" y="408.9" text-anchor="middle">0.4</text>
<text x="230.4" y="408.9" text-anchor="middle">0.8</text>
<text x="258.0" y="408.9" text-anchor="middle">1.2</text>
<text x="285.5" y="408.9" text-anchor="middle">1.6</text>
<text x="313.1" y="408.9" text-anchor="middle">2.0</text>
</g>
<rect x="335.60" y="391.5" width="4.66" height="9.5" fill="#3061a5"/>
<rect x="339.96" y="391.5" width="4.66" height="9.5" fill="#3c67a9"/>
<rect x="344.32" y="391.5" width="4.66" height="9.5" fill="#496ead"/>
<rect x="348.67" y="391.5" width="4.66" height="9.5" fill="#5674b1"/>
<rect x="353.03" y="391.5" width="4.66" height="9.5" fill="#6479ac"/>
<rect x="357.39" y="391.5" width="4.66" height="9.5" fill="#727ea4"/>
<rect x="361.75" y="391.5" width="4.66" height="9.5" fill="#81839d"/>
<rect x="366.10" y="391.5" width="4.66" height="9.5" fill="#908894"/>
<rect x="370.46" y="391.5" width="4.66" height="9.5" fill="#9e8d89"/>
<rect x="374.82" y="391.5" width="4.66" height="9.5" fill="#ac927e"/>
<rect x="379.18" y="391.5" width="4.66" height="9.5" fill="#bb9774"/>
<rect x="383.53" y="391.5" width="4.66" height="9.5" fill="#ca9c6a"/>
<rect x="387.89" y="391.5" width="4.66" height="9.5" fill="#d9a260"/>
<rect x="392.25" y="391.5" width="4.66" height="9.5" fill="#e6a658"/>
<rect x="396.61" y="391.5" width="4.66" height="9.5" fill="#e8a655"/>
<rect x="400.96" y="391.5" width="4.66" height="9.5" fill="#eaa652"/>
<rect x="405.32" y="391.5" width="4.66" height="9.5" fill="#eda650"/>
<rect x="409.68" y="391.5" width="4.66" height="9.5" fill="#eeaa56"/>
<rect x="414.04" y="391.5" width="4.66" height="9.5" fill="#efae5c"/>
<rect x="418.39" y="391.5" width="4.66" height="9.5" fill="#f0b163"/>
<rect x="422.75" y="391.5" width="4.66" height="9.5" fill="#f0b466"/>
<rect x="427.11" y="391.5" width="4.66" height="9.5" fill="#f1b568"/>
<rect x="431.47" y="391.5" width="4.66" height="9.5" fill="#f2b76b"/>
<rect x="435.82" y="391.5" width="4.66" height="9.5" fill="#f4bd71"/>
<rect x="440.18" y="391.5" width="4.66" height="9.5" fill="#f6c47a"/>
<rect x="444.54" y="391.5" width="4.66" height="9.5" fill="#f8cc82"/>
<rect x="448.90" y="391.5" width="4.66" height="9.5" fill="#fad389"/>
<rect x="453.25" y="391.5" width="4.66" height="9.5" fill="#fbd78f"/>
<rect x="457.61" y="391.5" width="4.66" height="9.5" fill="#fcdc95"/>
<rect x="461.97" y="391.5" width="4.66" height="9.5" fill="#fde09c"/>
<rect x="466.33" y="391.5" width="4.66" height="9.5" fill="#fde6a8"/>
<rect x="470.68" y="391.5" width="4.66" height="9.5" fill="#feebb3"/>
<rect x="475.04" y="391.5" width="4.66" height="9.5" fill="#fef1be"/>
<path d="M339.96,391.5V401.0M344.32,391.5V401.0M348.67,391.5V401.0M357.39,391.5V401.0M361.75,391.5V401.0M366.10,391.5V401.0M374.82,391.5V401.0M379.18,391.5V401.0M383.53,391.5V401.0M392.25,391.5V401.0M396.61,391.5V401.0M400.96,391.5V401.0M409.68,391.5V401.0M414.04,391.5V401.0M418.39,391.5V401.0M427.11,391.5V401.0M431.47,391.5V401.0M435.82,391.5V401.0M444.54,391.5V401.0M448.90,391.5V401.0M453.25,391.5V401.0M461.97,391.5V401.0M466.33,391.5V401.0M470.68,391.5V401.0" stroke="#000" stroke-opacity="0.3" stroke-width="0.4"/>
<path d="M353.03,391.5V401.0M370.46,391.5V401.0M387.89,391.5V401.0M405.32,391.5V401.0M422.75,391.5V401.0M440.18,391.5V401.0M457.61,391.5V401.0M475.04,391.5V401.0" stroke="#111" stroke-width="0.9"/>
<rect x="335.6" y="391.5" width="143.8" height="9.5" fill="none" stroke="#222" stroke-width="0.9"/>
<g font-family="'Liberation Serif','Times New Roman',serif" font-size="7.7" fill="#222">
<text x="336.0" y="408.9" text-anchor="middle">0.0</text>
<text x="353.4" y="408.9" text-anchor="middle">0.4</text>
<text x="370.9" y="408.9" text-anchor="middle">0.8</text>
<text x="388.3" y="408.9" text-anchor="middle">1.2</text>
<text x="405.7" y="408.9" text-anchor="middle">1.6</text>
<text x="423.2" y="408.9" text-anchor="middle">2.0</text>
<text x="440.6" y="408.9" text-anchor="middle">2.4</text>
<text x="458.0" y="408.9" text-anchor="middle">2.8</text>
<text x="475.4" y="408.9" text-anchor="middle">3.2</text>
</g>
<g font-family="'Liberation Serif','Times New Roman',serif" fill="#222" font-size="12.4">
<text x="217.3" y="384.0">(</text>
<text x="219.9" y="384.0" font-style="italic">W</text>
<text x="231.2" y="387.4" font-style="italic" font-size="6.0">maxL</text>
<path d="M249.7,380.3h4.6" stroke="#9a9a9a" stroke-width="0.6"/>
<text x="255.1" y="384.0" font-style="italic">W</text>
<text x="266.8" y="387.4" font-style="italic" font-size="6.0">maxR</text>
<text x="280.5" y="384.0">)/</text>
<text x="286.9" y="384.0" font-style="italic">W</text>
<text x="298.7" y="387.9" font-size="6">0</text>
</g>
<g font-family="'Liberation Serif','Times New Roman',serif" fill="#222" font-size="12.4">
<text x="362.4" y="384.0">(</text>
<text x="365.0" y="384.0" font-style="italic">W</text>
<text x="376.3" y="387.4" font-style="italic" font-size="6.0">maxL</text>
<path d="M394.8,380.3h4.6" stroke="#9a9a9a" stroke-width="0.6"/>
<text x="400.2" y="384.0" font-style="italic">W</text>
<text x="411.9" y="387.4" font-style="italic" font-size="6.0">maxR</text>
<text x="425.6" y="384.0">)/</text>
<text x="432.0" y="384.0" font-style="italic">W</text>
<text x="443.8" y="387.9" font-size="6">0</text>
</g>
</svg>
</body></html>
